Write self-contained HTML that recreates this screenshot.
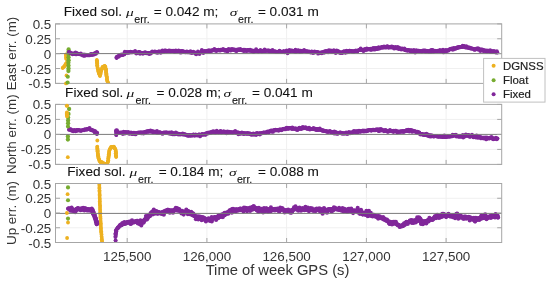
<!DOCTYPE html><html><head><meta charset="utf-8"><style>html,body{margin:0;padding:0;background:#fff;overflow:hidden}svg{display:block;filter:blur(0.3px)}text{font-family:"Liberation Sans",sans-serif;fill:#333333}.t{fill:#111;stroke:#111;stroke-width:0.08px;stroke-linejoin:round}</style></head><body>
<svg width="550" height="284" viewBox="0 0 550 284">
<rect width="550" height="284" fill="#fff"/>
<line x1="55.5" y1="38.775" x2="501.7" y2="38.775" stroke="#f0f0f0" stroke-width="1"/>
<line x1="55.5" y1="68.525" x2="501.7" y2="68.525" stroke="#f0f0f0" stroke-width="1"/>
<line x1="127.2" y1="23.9" x2="127.2" y2="83.4" stroke="#f0f0f0" stroke-width="1"/>
<line x1="206.9" y1="23.9" x2="206.9" y2="83.4" stroke="#f0f0f0" stroke-width="1"/>
<line x1="286.6" y1="23.9" x2="286.6" y2="83.4" stroke="#f0f0f0" stroke-width="1"/>
<line x1="366.4" y1="23.9" x2="366.4" y2="83.4" stroke="#f0f0f0" stroke-width="1"/>
<line x1="446.1" y1="23.9" x2="446.1" y2="83.4" stroke="#f0f0f0" stroke-width="1"/>
<line x1="55.5" y1="119.4" x2="501.7" y2="119.4" stroke="#f0f0f0" stroke-width="1"/>
<line x1="55.5" y1="149.4" x2="501.7" y2="149.4" stroke="#f0f0f0" stroke-width="1"/>
<line x1="127.2" y1="104.4" x2="127.2" y2="164.4" stroke="#f0f0f0" stroke-width="1"/>
<line x1="206.9" y1="104.4" x2="206.9" y2="164.4" stroke="#f0f0f0" stroke-width="1"/>
<line x1="286.6" y1="104.4" x2="286.6" y2="164.4" stroke="#f0f0f0" stroke-width="1"/>
<line x1="366.4" y1="104.4" x2="366.4" y2="164.4" stroke="#f0f0f0" stroke-width="1"/>
<line x1="446.1" y1="104.4" x2="446.1" y2="164.4" stroke="#f0f0f0" stroke-width="1"/>
<line x1="55.5" y1="198.25" x2="501.7" y2="198.25" stroke="#f0f0f0" stroke-width="1"/>
<line x1="55.5" y1="227.75" x2="501.7" y2="227.75" stroke="#f0f0f0" stroke-width="1"/>
<line x1="127.2" y1="183.5" x2="127.2" y2="242.5" stroke="#f0f0f0" stroke-width="1"/>
<line x1="206.9" y1="183.5" x2="206.9" y2="242.5" stroke="#f0f0f0" stroke-width="1"/>
<line x1="286.6" y1="183.5" x2="286.6" y2="242.5" stroke="#f0f0f0" stroke-width="1"/>
<line x1="366.4" y1="183.5" x2="366.4" y2="242.5" stroke="#f0f0f0" stroke-width="1"/>
<line x1="446.1" y1="183.5" x2="446.1" y2="242.5" stroke="#f0f0f0" stroke-width="1"/>
<defs><clipPath id="c"><rect x="55.5" y="23.9" width="446.2" height="59.50000000000001"/><rect x="55.5" y="104.4" width="446.2" height="60.0"/><rect x="55.5" y="183.5" width="446.2" height="59.0"/></clipPath></defs>
<g clip-path="url(#c)">
<polyline points="66.1,54.3 66.2,59.0" fill="none" stroke="#EDB120" stroke-width="3.4" stroke-linecap="round" stroke-linejoin="round"/>
<g fill="#EDB120"><circle cx="66.1" cy="54.5" r="1.8"/><circle cx="66.1" cy="55.1" r="1.8"/><circle cx="66.0" cy="56.1" r="1.8"/><circle cx="66.3" cy="57.3" r="1.8"/><circle cx="66.3" cy="58.1" r="1.8"/><circle cx="66.2" cy="59.0" r="1.8"/></g>
<polyline points="67.2,62.0 66.3,63.6 64.5,66.2 62.6,67.9" fill="none" stroke="#EDB120" stroke-width="3.4" stroke-linecap="round" stroke-linejoin="round"/>
<g fill="#EDB120"><circle cx="67.2" cy="62.1" r="1.8"/><circle cx="66.6" cy="63.1" r="1.8"/><circle cx="66.4" cy="63.8" r="1.8"/><circle cx="65.5" cy="63.9" r="1.8"/><circle cx="65.0" cy="65.2" r="1.8"/><circle cx="64.5" cy="66.2" r="1.8"/><circle cx="63.9" cy="66.5" r="1.8"/><circle cx="63.3" cy="67.5" r="1.8"/><circle cx="62.6" cy="67.9" r="1.8"/></g>
<polyline points="96.9,59.7 97.4,66.6 99.0,74.0 100.0,76.1 101.1,70.8 102.7,66.6 104.8,66.0 105.9,68.7 106.4,75.0 107.4,81.4 108.5,83.4" fill="none" stroke="#EDB120" stroke-width="3.4" stroke-linecap="round" stroke-linejoin="round"/>
<g fill="#EDB120"><circle cx="96.8" cy="60.3" r="1.8"/><circle cx="97.0" cy="61.0" r="1.8"/><circle cx="97.0" cy="61.2" r="1.8"/><circle cx="97.1" cy="62.3" r="1.8"/><circle cx="97.2" cy="63.2" r="1.8"/><circle cx="97.2" cy="63.7" r="1.8"/><circle cx="97.2" cy="65.3" r="1.8"/><circle cx="97.3" cy="65.8" r="1.8"/><circle cx="97.4" cy="66.1" r="1.8"/><circle cx="97.6" cy="67.9" r="1.8"/><circle cx="97.5" cy="68.1" r="1.8"/><circle cx="97.9" cy="68.8" r="1.8"/><circle cx="98.2" cy="69.9" r="1.8"/><circle cx="98.1" cy="71.0" r="1.8"/><circle cx="98.5" cy="71.9" r="1.8"/><circle cx="98.8" cy="72.5" r="1.8"/><circle cx="98.8" cy="72.7" r="1.8"/><circle cx="99.1" cy="73.8" r="1.8"/><circle cx="99.5" cy="74.6" r="1.8"/><circle cx="99.9" cy="75.9" r="1.8"/><circle cx="100.3" cy="74.5" r="1.8"/><circle cx="100.2" cy="74.4" r="1.8"/><circle cx="100.7" cy="73.7" r="1.8"/><circle cx="100.5" cy="71.7" r="1.8"/><circle cx="101.0" cy="71.4" r="1.8"/><circle cx="101.0" cy="71.1" r="1.8"/><circle cx="101.5" cy="70.0" r="1.8"/><circle cx="101.8" cy="69.3" r="1.8"/><circle cx="102.2" cy="68.5" r="1.8"/><circle cx="102.4" cy="67.6" r="1.8"/><circle cx="102.5" cy="67.0" r="1.8"/><circle cx="103.9" cy="66.5" r="1.8"/><circle cx="104.6" cy="65.8" r="1.8"/><circle cx="105.3" cy="66.3" r="1.8"/><circle cx="105.5" cy="68.2" r="1.8"/><circle cx="105.8" cy="69.3" r="1.8"/><circle cx="106.0" cy="69.5" r="1.8"/><circle cx="106.1" cy="70.7" r="1.8"/><circle cx="106.1" cy="71.8" r="1.8"/><circle cx="106.1" cy="72.2" r="1.8"/><circle cx="106.4" cy="73.2" r="1.8"/><circle cx="106.2" cy="74.4" r="1.8"/><circle cx="106.6" cy="74.8" r="1.8"/><circle cx="106.4" cy="75.8" r="1.8"/><circle cx="106.6" cy="76.5" r="1.8"/><circle cx="106.9" cy="77.0" r="1.8"/><circle cx="107.0" cy="77.8" r="1.8"/><circle cx="106.9" cy="79.2" r="1.8"/><circle cx="107.3" cy="80.1" r="1.8"/><circle cx="107.3" cy="80.6" r="1.8"/><circle cx="107.4" cy="81.6" r="1.8"/><circle cx="107.9" cy="82.5" r="1.8"/><circle cx="108.5" cy="83.4" r="1.8"/></g>
<polyline points="97.2,146.6 97.6,152.0 98.3,157.0 99.3,160.5 100.8,162.5 103.5,163.5 107.2,164.0 108.3,160.0 108.7,154.7 109.6,149.6 111.0,147.0 113.8,146.6 115.6,149.6 116.2,157.0" fill="none" stroke="#EDB120" stroke-width="3.4" stroke-linecap="round" stroke-linejoin="round"/>
<g fill="#EDB120"><circle cx="97.3" cy="146.6" r="1.8"/><circle cx="97.3" cy="147.7" r="1.8"/><circle cx="97.5" cy="148.5" r="1.8"/><circle cx="97.4" cy="149.2" r="1.8"/><circle cx="97.5" cy="150.5" r="1.8"/><circle cx="97.5" cy="151.2" r="1.8"/><circle cx="97.8" cy="151.1" r="1.8"/><circle cx="97.6" cy="152.9" r="1.8"/><circle cx="97.9" cy="153.8" r="1.8"/><circle cx="97.9" cy="154.7" r="1.8"/><circle cx="98.1" cy="155.2" r="1.8"/><circle cx="98.4" cy="156.3" r="1.8"/><circle cx="98.2" cy="157.0" r="1.8"/><circle cx="98.5" cy="157.9" r="1.8"/><circle cx="98.5" cy="158.6" r="1.8"/><circle cx="99.2" cy="159.2" r="1.8"/><circle cx="99.3" cy="160.8" r="1.8"/><circle cx="99.9" cy="161.7" r="1.8"/><circle cx="100.1" cy="161.7" r="1.8"/><circle cx="100.8" cy="162.7" r="1.8"/><circle cx="101.8" cy="161.9" r="1.8"/><circle cx="102.7" cy="162.7" r="1.8"/><circle cx="103.6" cy="163.0" r="1.8"/><circle cx="104.4" cy="164.0" r="1.8"/><circle cx="105.3" cy="163.8" r="1.8"/><circle cx="106.4" cy="163.9" r="1.8"/><circle cx="107.2" cy="164.5" r="1.8"/><circle cx="107.5" cy="163.1" r="1.8"/><circle cx="107.9" cy="162.0" r="1.8"/><circle cx="108.0" cy="161.5" r="1.8"/><circle cx="108.1" cy="161.0" r="1.8"/><circle cx="108.3" cy="160.2" r="1.8"/><circle cx="108.2" cy="158.6" r="1.8"/><circle cx="108.5" cy="157.9" r="1.8"/><circle cx="108.4" cy="156.8" r="1.8"/><circle cx="108.7" cy="156.7" r="1.8"/><circle cx="108.8" cy="155.3" r="1.8"/><circle cx="108.7" cy="154.3" r="1.8"/><circle cx="108.9" cy="154.4" r="1.8"/><circle cx="108.9" cy="153.5" r="1.8"/><circle cx="109.3" cy="152.1" r="1.8"/><circle cx="109.1" cy="151.8" r="1.8"/><circle cx="109.4" cy="150.2" r="1.8"/><circle cx="109.6" cy="149.7" r="1.8"/><circle cx="110.2" cy="148.4" r="1.8"/><circle cx="110.7" cy="148.4" r="1.8"/><circle cx="111.2" cy="146.9" r="1.8"/><circle cx="111.9" cy="147.2" r="1.8"/><circle cx="112.9" cy="146.8" r="1.8"/><circle cx="113.9" cy="146.5" r="1.8"/><circle cx="114.0" cy="147.2" r="1.8"/><circle cx="114.5" cy="148.4" r="1.8"/><circle cx="115.2" cy="148.6" r="1.8"/><circle cx="115.6" cy="149.9" r="1.8"/><circle cx="115.7" cy="150.9" r="1.8"/><circle cx="115.7" cy="151.6" r="1.8"/><circle cx="116.0" cy="152.6" r="1.8"/><circle cx="115.8" cy="153.2" r="1.8"/><circle cx="115.7" cy="153.3" r="1.8"/><circle cx="115.8" cy="154.9" r="1.8"/><circle cx="115.9" cy="155.4" r="1.8"/><circle cx="116.1" cy="156.2" r="1.8"/><circle cx="116.2" cy="157.0" r="1.8"/></g>
<g fill="#EDB120"><circle cx="99.3" cy="184.5" r="1.85"/><circle cx="99.4" cy="185.9" r="1.85"/><circle cx="99.4" cy="187.5" r="1.85"/><circle cx="99.4" cy="188.5" r="1.85"/><circle cx="99.5" cy="190.3" r="1.85"/><circle cx="99.5" cy="191.5" r="1.85"/><circle cx="99.6" cy="193.1" r="1.85"/><circle cx="99.6" cy="194.5" r="1.85"/><circle cx="99.7" cy="195.6" r="1.85"/><circle cx="99.6" cy="197.1" r="1.85"/><circle cx="99.8" cy="198.5" r="1.85"/><circle cx="99.8" cy="199.9" r="1.85"/><circle cx="99.8" cy="201.3" r="1.85"/><circle cx="99.8" cy="202.8" r="1.85"/><circle cx="99.8" cy="204.1" r="1.85"/><circle cx="100.0" cy="205.2" r="1.85"/><circle cx="100.1" cy="206.8" r="1.85"/><circle cx="100.0" cy="208.1" r="1.85"/><circle cx="100.1" cy="209.5" r="1.85"/><circle cx="100.2" cy="211.0" r="1.85"/><circle cx="100.2" cy="212.3" r="1.85"/><circle cx="100.3" cy="213.7" r="1.85"/><circle cx="100.3" cy="214.7" r="1.85"/><circle cx="100.4" cy="216.6" r="1.85"/><circle cx="100.4" cy="217.7" r="1.85"/><circle cx="100.6" cy="218.8" r="1.85"/><circle cx="100.6" cy="220.8" r="1.85"/><circle cx="100.6" cy="221.9" r="1.85"/><circle cx="100.8" cy="223.2" r="1.85"/><circle cx="100.8" cy="224.7" r="1.85"/><circle cx="100.8" cy="225.9" r="1.85"/><circle cx="100.9" cy="227.4" r="1.85"/><circle cx="100.9" cy="228.6" r="1.85"/><circle cx="101.0" cy="229.9" r="1.85"/><circle cx="101.2" cy="231.3" r="1.85"/><circle cx="101.2" cy="232.5" r="1.85"/><circle cx="101.5" cy="234.1" r="1.85"/><circle cx="101.5" cy="234.8" r="1.85"/><circle cx="101.6" cy="236.6" r="1.85"/><circle cx="101.8" cy="237.9" r="1.85"/><circle cx="101.8" cy="239.2" r="1.85"/><circle cx="101.9" cy="240.6" r="1.85"/><circle cx="102.1" cy="241.6" r="1.85"/><circle cx="102.2" cy="243.0" r="1.85"/></g>
<g fill="#77AC30"><circle cx="68.6" cy="49.4" r="2.15"/><circle cx="68.5" cy="51.9" r="2.15"/><circle cx="68.6" cy="54.7" r="2.15"/><circle cx="68.5" cy="57.3" r="2.15"/><circle cx="68.6" cy="60.2" r="2.15"/><circle cx="68.4" cy="62.7" r="2.15"/><circle cx="68.5" cy="65.6" r="2.15"/><circle cx="68.5" cy="68.4" r="2.15"/><circle cx="68.4" cy="71.0" r="2.15"/></g>
<g fill="#77AC30"><circle cx="69.1" cy="109.0" r="2.15"/><circle cx="68.5" cy="113.9" r="2.15"/><circle cx="68.1" cy="117.6" r="2.15"/><circle cx="68.1" cy="120.4" r="2.15"/><circle cx="68.1" cy="123.3" r="2.15"/></g>
<g fill="#77AC30"><circle cx="67.9" cy="136.4" r="2.15"/><circle cx="67.9" cy="139.6" r="2.15"/></g>
<polyline points="66.9,112.6 67.0,116.2" fill="none" stroke="#EDB120" stroke-width="4" stroke-linecap="round"/>
<g fill="#EDB120"><circle cx="66.9" cy="105.6" r="2.1"/></g>
<polyline points="68.7,51.8 71.9,53.8 77.5,53.6 83.2,54.4 88.8,55.1 93.3,54.7 97.3,52.5" fill="none" stroke="#80279A" stroke-width="3.0" stroke-linecap="round" stroke-linejoin="round"/>
<g fill="#80279A"><circle cx="68.8" cy="51.9" r="1.9"/><circle cx="69.2" cy="52.5" r="1.9"/><circle cx="69.8" cy="52.1" r="1.9"/><circle cx="70.2" cy="52.8" r="1.9"/><circle cx="70.8" cy="53.2" r="1.9"/><circle cx="71.4" cy="53.6" r="1.9"/><circle cx="71.9" cy="53.2" r="1.9"/><circle cx="72.6" cy="54.3" r="1.9"/><circle cx="73.2" cy="53.7" r="1.9"/><circle cx="73.8" cy="53.3" r="1.9"/><circle cx="74.1" cy="53.7" r="1.9"/><circle cx="74.9" cy="54.1" r="1.9"/><circle cx="75.5" cy="52.4" r="1.9"/><circle cx="76.1" cy="54.4" r="1.9"/><circle cx="76.8" cy="52.9" r="1.9"/><circle cx="77.4" cy="53.9" r="1.9"/><circle cx="78.2" cy="53.8" r="1.9"/><circle cx="79.0" cy="54.1" r="1.9"/><circle cx="79.4" cy="54.2" r="1.9"/><circle cx="80.3" cy="54.4" r="1.9"/><circle cx="80.8" cy="53.5" r="1.9"/><circle cx="81.3" cy="54.5" r="1.9"/><circle cx="81.9" cy="54.8" r="1.9"/><circle cx="82.7" cy="54.8" r="1.9"/><circle cx="83.2" cy="55.7" r="1.9"/><circle cx="84.0" cy="54.4" r="1.9"/><circle cx="84.5" cy="55.9" r="1.9"/><circle cx="85.0" cy="55.1" r="1.9"/><circle cx="85.8" cy="54.7" r="1.9"/><circle cx="86.1" cy="54.9" r="1.9"/><circle cx="87.0" cy="55.4" r="1.9"/><circle cx="87.7" cy="55.0" r="1.9"/><circle cx="88.3" cy="55.3" r="1.9"/><circle cx="88.8" cy="55.1" r="1.9"/><circle cx="89.4" cy="55.4" r="1.9"/><circle cx="89.9" cy="54.7" r="1.9"/><circle cx="90.7" cy="54.2" r="1.9"/><circle cx="91.3" cy="53.9" r="1.9"/><circle cx="91.9" cy="55.1" r="1.9"/><circle cx="92.7" cy="54.7" r="1.9"/><circle cx="93.3" cy="54.0" r="1.9"/><circle cx="94.1" cy="54.6" r="1.9"/><circle cx="94.6" cy="53.6" r="1.9"/><circle cx="95.0" cy="52.8" r="1.9"/><circle cx="95.7" cy="53.9" r="1.9"/><circle cx="95.9" cy="53.1" r="1.9"/><circle cx="96.8" cy="51.9" r="1.9"/><circle cx="97.3" cy="52.5" r="1.9"/></g>
<polyline points="116.6,58.2 117.4,56.6 119.3,55.6 122.7,55.1 124.2,54.2 125.2,52.7 130.5,52.4 136.2,52.2 141.8,52.7 147.5,52.9 153.1,52.4 158.7,51.8 164.4,51.1 168.9,50.7 173.0,51.1 176.3,51.4 180.0,51.3 185.6,51.8 191.3,52.4 196.9,52.9 202.5,51.8 208.2,50.7 213.8,50.2 219.5,50.0 225.1,50.0 236.4,49.9 247.5,50.3 258.8,50.9 270.1,50.9 275.7,51.8 281.4,51.5 285.0,52.3 291.8,50.7 301.9,51.1 313.2,52.0 321.1,52.6 330.1,51.1 335.7,51.8 341.4,52.3 345.0,52.0 350.6,51.4 356.3,50.9 361.9,49.7 367.5,49.2 373.2,48.9 378.8,48.3 382.2,46.9 387.8,46.9 393.5,47.8 399.1,48.3 405.6,49.4 411.3,50.5 416.9,51.2 422.5,50.9 428.2,51.2 433.8,50.9 439.5,50.9 445.0,50.9 450.6,49.4 456.3,48.3 461.9,47.1 465.3,46.8 469.8,48.3 476.6,49.1 482.2,49.7 487.8,50.9 493.5,51.6 497.4,52.5" fill="none" stroke="#80279A" stroke-width="3.4" stroke-linecap="round" stroke-linejoin="round"/>
<g fill="#80279A"><circle cx="116.3" cy="57.6" r="1.9"/><circle cx="116.9" cy="56.6" r="1.9"/><circle cx="117.4" cy="56.7" r="1.9"/><circle cx="118.1" cy="56.7" r="1.9"/><circle cx="118.9" cy="56.6" r="1.9"/><circle cx="119.1" cy="55.3" r="1.9"/><circle cx="119.8" cy="54.9" r="1.9"/><circle cx="120.6" cy="55.4" r="1.9"/><circle cx="121.4" cy="54.3" r="1.9"/><circle cx="121.8" cy="55.2" r="1.9"/><circle cx="122.7" cy="54.9" r="1.9"/><circle cx="123.4" cy="54.2" r="1.9"/><circle cx="124.3" cy="54.4" r="1.9"/><circle cx="124.5" cy="53.3" r="1.9"/><circle cx="124.8" cy="51.6" r="1.9"/><circle cx="125.0" cy="52.7" r="1.9"/><circle cx="125.6" cy="52.8" r="1.9"/><circle cx="126.6" cy="51.8" r="1.9"/><circle cx="127.1" cy="52.4" r="1.9"/><circle cx="127.9" cy="52.9" r="1.9"/><circle cx="128.5" cy="52.0" r="1.9"/><circle cx="129.1" cy="52.4" r="1.9"/><circle cx="130.0" cy="52.6" r="1.9"/><circle cx="130.4" cy="51.6" r="1.9"/><circle cx="131.1" cy="51.9" r="1.9"/><circle cx="131.6" cy="52.3" r="1.9"/><circle cx="132.3" cy="52.4" r="1.9"/><circle cx="133.1" cy="52.1" r="1.9"/><circle cx="134.1" cy="52.1" r="1.9"/><circle cx="134.5" cy="52.3" r="1.9"/><circle cx="135.1" cy="50.8" r="1.9"/><circle cx="135.4" cy="52.4" r="1.9"/><circle cx="136.3" cy="53.6" r="1.9"/><circle cx="136.9" cy="53.0" r="1.9"/><circle cx="137.6" cy="52.9" r="1.9"/><circle cx="138.2" cy="52.3" r="1.9"/><circle cx="138.8" cy="51.8" r="1.9"/><circle cx="139.5" cy="51.9" r="1.9"/><circle cx="140.0" cy="53.8" r="1.9"/><circle cx="140.5" cy="52.6" r="1.9"/><circle cx="141.4" cy="52.7" r="1.9"/><circle cx="141.7" cy="52.9" r="1.9"/><circle cx="142.5" cy="53.1" r="1.9"/><circle cx="142.9" cy="53.8" r="1.9"/><circle cx="144.0" cy="52.8" r="1.9"/><circle cx="144.4" cy="52.5" r="1.9"/><circle cx="145.2" cy="52.4" r="1.9"/><circle cx="145.7" cy="52.5" r="1.9"/><circle cx="146.1" cy="53.3" r="1.9"/><circle cx="147.1" cy="52.9" r="1.9"/><circle cx="147.4" cy="53.4" r="1.9"/><circle cx="148.1" cy="53.0" r="1.9"/><circle cx="149.0" cy="53.5" r="1.9"/><circle cx="149.3" cy="54.1" r="1.9"/><circle cx="150.0" cy="53.1" r="1.9"/><circle cx="150.5" cy="52.6" r="1.9"/><circle cx="150.9" cy="53.6" r="1.9"/><circle cx="152.1" cy="51.8" r="1.9"/><circle cx="152.2" cy="51.5" r="1.9"/><circle cx="153.3" cy="52.1" r="1.9"/><circle cx="153.7" cy="52.1" r="1.9"/><circle cx="154.3" cy="51.6" r="1.9"/><circle cx="155.0" cy="51.3" r="1.9"/><circle cx="155.6" cy="52.3" r="1.9"/><circle cx="156.3" cy="51.9" r="1.9"/><circle cx="156.7" cy="52.1" r="1.9"/><circle cx="157.4" cy="52.9" r="1.9"/><circle cx="158.2" cy="51.8" r="1.9"/><circle cx="158.6" cy="51.4" r="1.9"/><circle cx="159.2" cy="51.5" r="1.9"/><circle cx="160.0" cy="52.0" r="1.9"/><circle cx="160.7" cy="52.8" r="1.9"/><circle cx="161.1" cy="51.5" r="1.9"/><circle cx="162.4" cy="50.3" r="1.9"/><circle cx="162.4" cy="51.4" r="1.9"/><circle cx="163.2" cy="51.5" r="1.9"/><circle cx="163.7" cy="51.4" r="1.9"/><circle cx="164.4" cy="51.6" r="1.9"/><circle cx="164.7" cy="50.5" r="1.9"/><circle cx="165.7" cy="50.4" r="1.9"/><circle cx="166.1" cy="51.3" r="1.9"/><circle cx="166.9" cy="51.3" r="1.9"/><circle cx="167.7" cy="51.0" r="1.9"/><circle cx="168.3" cy="50.7" r="1.9"/><circle cx="168.6" cy="50.7" r="1.9"/><circle cx="169.7" cy="50.4" r="1.9"/><circle cx="170.2" cy="51.3" r="1.9"/><circle cx="170.8" cy="51.3" r="1.9"/><circle cx="172.0" cy="50.6" r="1.9"/><circle cx="172.3" cy="50.9" r="1.9"/><circle cx="173.3" cy="51.3" r="1.9"/><circle cx="173.8" cy="50.7" r="1.9"/><circle cx="174.3" cy="51.2" r="1.9"/><circle cx="174.7" cy="52.1" r="1.9"/><circle cx="175.8" cy="50.3" r="1.9"/><circle cx="176.4" cy="51.3" r="1.9"/><circle cx="177.0" cy="51.6" r="1.9"/><circle cx="177.3" cy="51.2" r="1.9"/><circle cx="178.4" cy="51.0" r="1.9"/><circle cx="178.6" cy="50.5" r="1.9"/><circle cx="179.2" cy="51.5" r="1.9"/><circle cx="180.3" cy="51.6" r="1.9"/><circle cx="180.7" cy="52.7" r="1.9"/><circle cx="181.2" cy="51.0" r="1.9"/><circle cx="182.0" cy="51.8" r="1.9"/><circle cx="182.3" cy="50.8" r="1.9"/><circle cx="183.2" cy="51.7" r="1.9"/><circle cx="183.5" cy="51.5" r="1.9"/><circle cx="184.3" cy="52.0" r="1.9"/><circle cx="185.0" cy="51.7" r="1.9"/><circle cx="185.5" cy="52.4" r="1.9"/><circle cx="186.5" cy="51.6" r="1.9"/><circle cx="187.0" cy="51.5" r="1.9"/><circle cx="187.5" cy="52.4" r="1.9"/><circle cx="188.4" cy="51.8" r="1.9"/><circle cx="188.8" cy="52.3" r="1.9"/><circle cx="189.1" cy="52.2" r="1.9"/><circle cx="189.9" cy="52.5" r="1.9"/><circle cx="190.5" cy="51.1" r="1.9"/><circle cx="191.3" cy="52.6" r="1.9"/><circle cx="191.8" cy="53.0" r="1.9"/><circle cx="192.5" cy="52.1" r="1.9"/><circle cx="193.3" cy="51.6" r="1.9"/><circle cx="193.7" cy="52.6" r="1.9"/><circle cx="194.6" cy="52.6" r="1.9"/><circle cx="195.1" cy="52.3" r="1.9"/><circle cx="195.7" cy="53.8" r="1.9"/><circle cx="196.2" cy="54.3" r="1.9"/><circle cx="196.8" cy="52.9" r="1.9"/><circle cx="197.6" cy="53.4" r="1.9"/><circle cx="197.9" cy="51.4" r="1.9"/><circle cx="198.9" cy="53.0" r="1.9"/><circle cx="199.5" cy="54.0" r="1.9"/><circle cx="200.0" cy="52.4" r="1.9"/><circle cx="200.8" cy="52.4" r="1.9"/><circle cx="201.6" cy="51.3" r="1.9"/><circle cx="201.8" cy="49.9" r="1.9"/><circle cx="202.6" cy="51.6" r="1.9"/><circle cx="203.3" cy="53.0" r="1.9"/><circle cx="203.8" cy="51.4" r="1.9"/><circle cx="204.3" cy="50.9" r="1.9"/><circle cx="204.9" cy="51.7" r="1.9"/><circle cx="205.7" cy="51.2" r="1.9"/><circle cx="206.3" cy="51.6" r="1.9"/><circle cx="207.0" cy="50.9" r="1.9"/><circle cx="207.7" cy="50.7" r="1.9"/><circle cx="208.0" cy="51.6" r="1.9"/><circle cx="208.9" cy="50.1" r="1.9"/><circle cx="209.6" cy="50.8" r="1.9"/><circle cx="209.8" cy="51.5" r="1.9"/><circle cx="210.7" cy="51.0" r="1.9"/><circle cx="211.3" cy="50.3" r="1.9"/><circle cx="211.7" cy="50.9" r="1.9"/><circle cx="212.6" cy="50.1" r="1.9"/><circle cx="213.2" cy="50.3" r="1.9"/><circle cx="213.9" cy="50.0" r="1.9"/><circle cx="214.4" cy="48.9" r="1.9"/><circle cx="215.0" cy="50.6" r="1.9"/><circle cx="215.9" cy="49.9" r="1.9"/><circle cx="216.3" cy="51.1" r="1.9"/><circle cx="216.9" cy="50.5" r="1.9"/><circle cx="217.9" cy="50.1" r="1.9"/><circle cx="218.5" cy="49.6" r="1.9"/><circle cx="218.9" cy="50.0" r="1.9"/><circle cx="219.5" cy="50.7" r="1.9"/><circle cx="220.6" cy="49.6" r="1.9"/><circle cx="220.6" cy="50.3" r="1.9"/><circle cx="221.2" cy="50.3" r="1.9"/><circle cx="222.1" cy="49.8" r="1.9"/><circle cx="222.7" cy="49.1" r="1.9"/><circle cx="223.4" cy="49.1" r="1.9"/><circle cx="223.7" cy="49.7" r="1.9"/><circle cx="224.4" cy="50.5" r="1.9"/><circle cx="225.1" cy="49.8" r="1.9"/><circle cx="225.8" cy="50.9" r="1.9"/><circle cx="226.4" cy="50.2" r="1.9"/><circle cx="227.2" cy="50.1" r="1.9"/><circle cx="227.4" cy="51.5" r="1.9"/><circle cx="228.6" cy="48.8" r="1.9"/><circle cx="228.9" cy="50.2" r="1.9"/><circle cx="229.7" cy="50.4" r="1.9"/><circle cx="230.1" cy="49.3" r="1.9"/><circle cx="230.8" cy="50.6" r="1.9"/><circle cx="231.2" cy="49.3" r="1.9"/><circle cx="232.0" cy="48.8" r="1.9"/><circle cx="232.6" cy="49.7" r="1.9"/><circle cx="233.3" cy="49.5" r="1.9"/><circle cx="233.7" cy="49.7" r="1.9"/><circle cx="234.5" cy="49.5" r="1.9"/><circle cx="235.1" cy="50.4" r="1.9"/><circle cx="236.0" cy="50.9" r="1.9"/><circle cx="236.3" cy="49.6" r="1.9"/><circle cx="236.6" cy="51.1" r="1.9"/><circle cx="237.5" cy="49.9" r="1.9"/><circle cx="238.3" cy="49.2" r="1.9"/><circle cx="239.0" cy="50.0" r="1.9"/><circle cx="239.2" cy="50.2" r="1.9"/><circle cx="240.3" cy="48.9" r="1.9"/><circle cx="240.9" cy="50.2" r="1.9"/><circle cx="241.4" cy="50.3" r="1.9"/><circle cx="242.2" cy="50.0" r="1.9"/><circle cx="242.7" cy="49.9" r="1.9"/><circle cx="243.3" cy="49.7" r="1.9"/><circle cx="243.8" cy="51.2" r="1.9"/><circle cx="244.5" cy="50.1" r="1.9"/><circle cx="244.8" cy="49.7" r="1.9"/><circle cx="245.7" cy="50.8" r="1.9"/><circle cx="246.3" cy="50.6" r="1.9"/><circle cx="246.9" cy="51.1" r="1.9"/><circle cx="247.4" cy="50.0" r="1.9"/><circle cx="248.3" cy="50.4" r="1.9"/><circle cx="248.7" cy="50.0" r="1.9"/><circle cx="249.3" cy="50.8" r="1.9"/><circle cx="250.1" cy="49.7" r="1.9"/><circle cx="250.7" cy="50.6" r="1.9"/><circle cx="251.1" cy="51.0" r="1.9"/><circle cx="251.8" cy="50.3" r="1.9"/><circle cx="252.7" cy="51.4" r="1.9"/><circle cx="253.0" cy="50.9" r="1.9"/><circle cx="253.6" cy="52.0" r="1.9"/><circle cx="254.3" cy="51.4" r="1.9"/><circle cx="254.9" cy="51.2" r="1.9"/><circle cx="256.1" cy="49.2" r="1.9"/><circle cx="256.2" cy="51.1" r="1.9"/><circle cx="256.9" cy="50.4" r="1.9"/><circle cx="257.9" cy="50.9" r="1.9"/><circle cx="257.9" cy="51.4" r="1.9"/><circle cx="258.5" cy="51.6" r="1.9"/><circle cx="259.3" cy="51.0" r="1.9"/><circle cx="260.3" cy="51.0" r="1.9"/><circle cx="260.4" cy="49.9" r="1.9"/><circle cx="261.5" cy="51.3" r="1.9"/><circle cx="261.8" cy="51.4" r="1.9"/><circle cx="262.7" cy="51.3" r="1.9"/><circle cx="262.8" cy="50.7" r="1.9"/><circle cx="264.0" cy="51.3" r="1.9"/><circle cx="264.6" cy="49.4" r="1.9"/><circle cx="265.1" cy="51.2" r="1.9"/><circle cx="266.2" cy="50.3" r="1.9"/><circle cx="266.3" cy="50.9" r="1.9"/><circle cx="267.1" cy="50.6" r="1.9"/><circle cx="267.8" cy="50.4" r="1.9"/><circle cx="268.3" cy="50.6" r="1.9"/><circle cx="268.9" cy="50.5" r="1.9"/><circle cx="269.2" cy="51.6" r="1.9"/><circle cx="270.2" cy="50.6" r="1.9"/><circle cx="270.8" cy="51.6" r="1.9"/><circle cx="271.2" cy="51.0" r="1.9"/><circle cx="272.1" cy="51.5" r="1.9"/><circle cx="272.5" cy="50.0" r="1.9"/><circle cx="273.4" cy="51.6" r="1.9"/><circle cx="273.8" cy="51.3" r="1.9"/><circle cx="274.5" cy="51.3" r="1.9"/><circle cx="274.9" cy="51.3" r="1.9"/><circle cx="275.6" cy="51.4" r="1.9"/><circle cx="276.1" cy="52.1" r="1.9"/><circle cx="276.7" cy="52.1" r="1.9"/><circle cx="277.4" cy="51.9" r="1.9"/><circle cx="278.5" cy="51.8" r="1.9"/><circle cx="278.7" cy="51.7" r="1.9"/><circle cx="279.5" cy="50.6" r="1.9"/><circle cx="280.0" cy="51.7" r="1.9"/><circle cx="280.7" cy="51.6" r="1.9"/><circle cx="281.5" cy="52.0" r="1.9"/><circle cx="282.2" cy="52.0" r="1.9"/><circle cx="282.5" cy="51.8" r="1.9"/><circle cx="283.2" cy="51.7" r="1.9"/><circle cx="283.8" cy="51.0" r="1.9"/><circle cx="284.3" cy="52.2" r="1.9"/><circle cx="284.8" cy="52.3" r="1.9"/><circle cx="285.7" cy="52.1" r="1.9"/><circle cx="286.6" cy="50.4" r="1.9"/><circle cx="286.8" cy="50.8" r="1.9"/><circle cx="287.6" cy="53.3" r="1.9"/><circle cx="287.6" cy="51.6" r="1.9"/><circle cx="288.8" cy="51.2" r="1.9"/><circle cx="289.4" cy="49.9" r="1.9"/><circle cx="290.1" cy="51.4" r="1.9"/><circle cx="290.6" cy="50.6" r="1.9"/><circle cx="291.3" cy="50.6" r="1.9"/><circle cx="291.8" cy="50.4" r="1.9"/><circle cx="292.0" cy="50.7" r="1.9"/><circle cx="293.1" cy="51.2" r="1.9"/><circle cx="293.5" cy="50.8" r="1.9"/><circle cx="294.4" cy="50.9" r="1.9"/><circle cx="295.2" cy="52.0" r="1.9"/><circle cx="295.4" cy="49.7" r="1.9"/><circle cx="296.4" cy="51.8" r="1.9"/><circle cx="297.0" cy="51.4" r="1.9"/><circle cx="297.4" cy="50.5" r="1.9"/><circle cx="298.3" cy="50.4" r="1.9"/><circle cx="298.4" cy="50.4" r="1.9"/><circle cx="299.8" cy="52.2" r="1.9"/><circle cx="299.9" cy="50.6" r="1.9"/><circle cx="300.7" cy="50.6" r="1.9"/><circle cx="301.5" cy="51.0" r="1.9"/><circle cx="301.7" cy="51.9" r="1.9"/><circle cx="302.4" cy="51.3" r="1.9"/><circle cx="303.2" cy="51.0" r="1.9"/><circle cx="303.8" cy="50.8" r="1.9"/><circle cx="304.1" cy="50.0" r="1.9"/><circle cx="304.8" cy="50.9" r="1.9"/><circle cx="305.7" cy="51.4" r="1.9"/><circle cx="306.4" cy="51.5" r="1.9"/><circle cx="306.8" cy="51.1" r="1.9"/><circle cx="307.2" cy="51.4" r="1.9"/><circle cx="308.3" cy="51.9" r="1.9"/><circle cx="308.8" cy="51.5" r="1.9"/><circle cx="309.6" cy="51.7" r="1.9"/><circle cx="310.2" cy="52.1" r="1.9"/><circle cx="310.7" cy="52.6" r="1.9"/><circle cx="311.2" cy="51.6" r="1.9"/><circle cx="311.8" cy="51.4" r="1.9"/><circle cx="312.9" cy="53.0" r="1.9"/><circle cx="313.2" cy="52.3" r="1.9"/><circle cx="314.0" cy="52.5" r="1.9"/><circle cx="314.6" cy="51.3" r="1.9"/><circle cx="314.9" cy="52.4" r="1.9"/><circle cx="315.9" cy="52.2" r="1.9"/><circle cx="316.1" cy="52.0" r="1.9"/><circle cx="316.7" cy="51.8" r="1.9"/><circle cx="317.7" cy="51.9" r="1.9"/><circle cx="318.1" cy="53.7" r="1.9"/><circle cx="318.9" cy="52.6" r="1.9"/><circle cx="319.2" cy="52.7" r="1.9"/><circle cx="320.2" cy="52.9" r="1.9"/><circle cx="320.7" cy="52.6" r="1.9"/><circle cx="321.2" cy="52.5" r="1.9"/><circle cx="321.8" cy="53.3" r="1.9"/><circle cx="322.0" cy="52.4" r="1.9"/><circle cx="322.9" cy="52.0" r="1.9"/><circle cx="323.4" cy="52.7" r="1.9"/><circle cx="324.5" cy="52.5" r="1.9"/><circle cx="324.8" cy="51.1" r="1.9"/><circle cx="325.6" cy="51.9" r="1.9"/><circle cx="325.9" cy="51.1" r="1.9"/><circle cx="326.5" cy="51.0" r="1.9"/><circle cx="327.1" cy="51.9" r="1.9"/><circle cx="327.7" cy="51.7" r="1.9"/><circle cx="328.1" cy="52.3" r="1.9"/><circle cx="328.8" cy="50.2" r="1.9"/><circle cx="329.5" cy="50.7" r="1.9"/><circle cx="329.9" cy="50.9" r="1.9"/><circle cx="330.8" cy="50.5" r="1.9"/><circle cx="331.3" cy="52.1" r="1.9"/><circle cx="332.1" cy="51.2" r="1.9"/><circle cx="332.6" cy="51.3" r="1.9"/><circle cx="333.2" cy="51.9" r="1.9"/><circle cx="333.8" cy="50.1" r="1.9"/><circle cx="334.5" cy="51.1" r="1.9"/><circle cx="335.2" cy="51.4" r="1.9"/><circle cx="335.7" cy="53.1" r="1.9"/><circle cx="336.1" cy="51.2" r="1.9"/><circle cx="336.7" cy="50.5" r="1.9"/><circle cx="337.3" cy="52.2" r="1.9"/><circle cx="338.1" cy="50.9" r="1.9"/><circle cx="338.6" cy="52.4" r="1.9"/><circle cx="339.4" cy="51.9" r="1.9"/><circle cx="340.2" cy="53.0" r="1.9"/><circle cx="341.1" cy="52.9" r="1.9"/><circle cx="341.4" cy="52.4" r="1.9"/><circle cx="342.3" cy="53.1" r="1.9"/><circle cx="342.5" cy="52.5" r="1.9"/><circle cx="343.3" cy="52.2" r="1.9"/><circle cx="343.7" cy="51.3" r="1.9"/><circle cx="344.3" cy="51.1" r="1.9"/><circle cx="345.2" cy="52.3" r="1.9"/><circle cx="345.4" cy="52.8" r="1.9"/><circle cx="346.4" cy="50.7" r="1.9"/><circle cx="347.2" cy="52.3" r="1.9"/><circle cx="347.9" cy="51.0" r="1.9"/><circle cx="348.2" cy="51.9" r="1.9"/><circle cx="348.8" cy="51.7" r="1.9"/><circle cx="349.5" cy="50.6" r="1.9"/><circle cx="349.8" cy="50.6" r="1.9"/><circle cx="350.5" cy="51.0" r="1.9"/><circle cx="351.3" cy="51.5" r="1.9"/><circle cx="351.9" cy="50.9" r="1.9"/><circle cx="352.4" cy="51.8" r="1.9"/><circle cx="353.3" cy="51.2" r="1.9"/><circle cx="353.7" cy="52.1" r="1.9"/><circle cx="354.3" cy="51.5" r="1.9"/><circle cx="355.2" cy="50.9" r="1.9"/><circle cx="355.8" cy="50.3" r="1.9"/><circle cx="356.5" cy="51.0" r="1.9"/><circle cx="356.6" cy="51.2" r="1.9"/><circle cx="357.4" cy="51.4" r="1.9"/><circle cx="358.0" cy="50.4" r="1.9"/><circle cx="358.8" cy="50.2" r="1.9"/><circle cx="359.5" cy="49.9" r="1.9"/><circle cx="360.2" cy="50.1" r="1.9"/><circle cx="360.7" cy="48.3" r="1.9"/><circle cx="361.5" cy="49.9" r="1.9"/><circle cx="361.6" cy="49.8" r="1.9"/><circle cx="362.6" cy="50.3" r="1.9"/><circle cx="362.9" cy="50.5" r="1.9"/><circle cx="363.7" cy="51.0" r="1.9"/><circle cx="364.4" cy="49.9" r="1.9"/><circle cx="364.9" cy="48.8" r="1.9"/><circle cx="365.8" cy="49.9" r="1.9"/><circle cx="366.5" cy="49.8" r="1.9"/><circle cx="366.8" cy="48.3" r="1.9"/><circle cx="367.4" cy="48.8" r="1.9"/><circle cx="368.0" cy="49.5" r="1.9"/><circle cx="368.8" cy="49.0" r="1.9"/><circle cx="369.4" cy="49.0" r="1.9"/><circle cx="370.1" cy="49.5" r="1.9"/><circle cx="370.8" cy="48.6" r="1.9"/><circle cx="371.0" cy="49.9" r="1.9"/><circle cx="372.0" cy="49.6" r="1.9"/><circle cx="372.3" cy="48.7" r="1.9"/><circle cx="373.2" cy="48.0" r="1.9"/><circle cx="373.7" cy="49.3" r="1.9"/><circle cx="374.6" cy="49.7" r="1.9"/><circle cx="374.9" cy="47.9" r="1.9"/><circle cx="375.8" cy="49.2" r="1.9"/><circle cx="376.3" cy="47.8" r="1.9"/><circle cx="377.1" cy="49.0" r="1.9"/><circle cx="377.7" cy="48.1" r="1.9"/><circle cx="378.2" cy="48.8" r="1.9"/><circle cx="378.7" cy="47.2" r="1.9"/><circle cx="379.4" cy="48.4" r="1.9"/><circle cx="379.9" cy="48.4" r="1.9"/><circle cx="380.4" cy="47.6" r="1.9"/><circle cx="381.0" cy="47.7" r="1.9"/><circle cx="381.9" cy="47.0" r="1.9"/><circle cx="382.6" cy="47.8" r="1.9"/><circle cx="383.0" cy="47.3" r="1.9"/><circle cx="383.8" cy="46.8" r="1.9"/><circle cx="384.0" cy="46.3" r="1.9"/><circle cx="384.8" cy="47.7" r="1.9"/><circle cx="385.4" cy="47.2" r="1.9"/><circle cx="385.9" cy="47.0" r="1.9"/><circle cx="386.3" cy="47.5" r="1.9"/><circle cx="387.1" cy="46.2" r="1.9"/><circle cx="387.7" cy="46.4" r="1.9"/><circle cx="388.6" cy="47.6" r="1.9"/><circle cx="388.8" cy="47.7" r="1.9"/><circle cx="389.9" cy="46.9" r="1.9"/><circle cx="390.1" cy="46.9" r="1.9"/><circle cx="390.9" cy="47.6" r="1.9"/><circle cx="391.5" cy="46.3" r="1.9"/><circle cx="392.3" cy="46.7" r="1.9"/><circle cx="393.0" cy="47.0" r="1.9"/><circle cx="393.4" cy="47.3" r="1.9"/><circle cx="394.0" cy="48.6" r="1.9"/><circle cx="394.9" cy="48.3" r="1.9"/><circle cx="395.4" cy="47.0" r="1.9"/><circle cx="395.9" cy="47.7" r="1.9"/><circle cx="396.4" cy="48.4" r="1.9"/><circle cx="397.1" cy="47.7" r="1.9"/><circle cx="397.7" cy="47.0" r="1.9"/><circle cx="398.6" cy="49.0" r="1.9"/><circle cx="399.1" cy="47.7" r="1.9"/><circle cx="399.3" cy="48.5" r="1.9"/><circle cx="400.6" cy="48.7" r="1.9"/><circle cx="401.2" cy="49.5" r="1.9"/><circle cx="401.9" cy="48.5" r="1.9"/><circle cx="402.5" cy="49.3" r="1.9"/><circle cx="402.7" cy="48.7" r="1.9"/><circle cx="403.4" cy="49.0" r="1.9"/><circle cx="404.4" cy="48.5" r="1.9"/><circle cx="404.6" cy="50.1" r="1.9"/><circle cx="405.7" cy="50.3" r="1.9"/><circle cx="406.0" cy="50.2" r="1.9"/><circle cx="407.2" cy="50.8" r="1.9"/><circle cx="407.5" cy="49.9" r="1.9"/><circle cx="408.1" cy="50.5" r="1.9"/><circle cx="409.0" cy="50.1" r="1.9"/><circle cx="409.2" cy="50.6" r="1.9"/><circle cx="409.9" cy="50.6" r="1.9"/><circle cx="410.7" cy="51.4" r="1.9"/><circle cx="411.5" cy="50.2" r="1.9"/><circle cx="412.0" cy="51.6" r="1.9"/><circle cx="412.4" cy="50.9" r="1.9"/><circle cx="413.4" cy="51.5" r="1.9"/><circle cx="413.9" cy="50.0" r="1.9"/><circle cx="414.2" cy="51.0" r="1.9"/><circle cx="415.1" cy="52.5" r="1.9"/><circle cx="415.5" cy="51.7" r="1.9"/><circle cx="416.4" cy="50.1" r="1.9"/><circle cx="416.8" cy="51.3" r="1.9"/><circle cx="417.4" cy="51.1" r="1.9"/><circle cx="418.2" cy="50.6" r="1.9"/><circle cx="418.9" cy="50.7" r="1.9"/><circle cx="419.3" cy="51.4" r="1.9"/><circle cx="419.9" cy="51.2" r="1.9"/><circle cx="420.9" cy="51.0" r="1.9"/><circle cx="421.2" cy="51.4" r="1.9"/><circle cx="421.8" cy="51.6" r="1.9"/><circle cx="422.3" cy="51.3" r="1.9"/><circle cx="423.0" cy="50.5" r="1.9"/><circle cx="424.1" cy="50.5" r="1.9"/><circle cx="424.7" cy="51.4" r="1.9"/><circle cx="425.3" cy="50.4" r="1.9"/><circle cx="425.9" cy="51.9" r="1.9"/><circle cx="426.3" cy="51.0" r="1.9"/><circle cx="427.4" cy="51.2" r="1.9"/><circle cx="427.5" cy="50.8" r="1.9"/><circle cx="428.3" cy="51.4" r="1.9"/><circle cx="428.9" cy="52.2" r="1.9"/><circle cx="429.4" cy="51.4" r="1.9"/><circle cx="430.3" cy="50.5" r="1.9"/><circle cx="430.9" cy="52.2" r="1.9"/><circle cx="431.1" cy="50.4" r="1.9"/><circle cx="431.7" cy="49.9" r="1.9"/><circle cx="432.6" cy="49.9" r="1.9"/><circle cx="433.3" cy="51.8" r="1.9"/><circle cx="433.5" cy="50.7" r="1.9"/><circle cx="434.1" cy="51.4" r="1.9"/><circle cx="434.9" cy="50.7" r="1.9"/><circle cx="435.7" cy="51.2" r="1.9"/><circle cx="436.3" cy="50.9" r="1.9"/><circle cx="436.9" cy="51.0" r="1.9"/><circle cx="437.4" cy="50.9" r="1.9"/><circle cx="437.9" cy="50.6" r="1.9"/><circle cx="439.2" cy="50.9" r="1.9"/><circle cx="439.3" cy="51.1" r="1.9"/><circle cx="439.9" cy="49.9" r="1.9"/><circle cx="440.6" cy="51.3" r="1.9"/><circle cx="441.4" cy="50.8" r="1.9"/><circle cx="441.8" cy="50.3" r="1.9"/><circle cx="442.8" cy="51.0" r="1.9"/><circle cx="443.0" cy="49.6" r="1.9"/><circle cx="443.5" cy="52.4" r="1.9"/><circle cx="444.2" cy="50.9" r="1.9"/><circle cx="445.0" cy="50.8" r="1.9"/><circle cx="445.6" cy="49.9" r="1.9"/><circle cx="446.1" cy="51.6" r="1.9"/><circle cx="446.7" cy="50.9" r="1.9"/><circle cx="447.2" cy="50.1" r="1.9"/><circle cx="448.2" cy="50.7" r="1.9"/><circle cx="448.5" cy="50.3" r="1.9"/><circle cx="449.4" cy="49.3" r="1.9"/><circle cx="450.1" cy="49.0" r="1.9"/><circle cx="450.5" cy="49.4" r="1.9"/><circle cx="450.7" cy="49.2" r="1.9"/><circle cx="451.7" cy="48.3" r="1.9"/><circle cx="452.4" cy="49.5" r="1.9"/><circle cx="453.1" cy="49.7" r="1.9"/><circle cx="453.6" cy="48.0" r="1.9"/><circle cx="454.7" cy="48.9" r="1.9"/><circle cx="455.2" cy="48.0" r="1.9"/><circle cx="455.8" cy="48.6" r="1.9"/><circle cx="456.4" cy="48.3" r="1.9"/><circle cx="457.1" cy="47.8" r="1.9"/><circle cx="457.4" cy="47.1" r="1.9"/><circle cx="458.4" cy="47.5" r="1.9"/><circle cx="458.6" cy="47.2" r="1.9"/><circle cx="459.3" cy="46.9" r="1.9"/><circle cx="460.0" cy="47.1" r="1.9"/><circle cx="460.6" cy="46.8" r="1.9"/><circle cx="461.3" cy="47.0" r="1.9"/><circle cx="461.9" cy="47.2" r="1.9"/><circle cx="462.6" cy="45.7" r="1.9"/><circle cx="463.2" cy="46.5" r="1.9"/><circle cx="464.1" cy="46.0" r="1.9"/><circle cx="464.5" cy="46.7" r="1.9"/><circle cx="465.2" cy="47.4" r="1.9"/><circle cx="465.9" cy="47.6" r="1.9"/><circle cx="466.3" cy="46.1" r="1.9"/><circle cx="467.4" cy="47.7" r="1.9"/><circle cx="468.0" cy="47.7" r="1.9"/><circle cx="468.6" cy="47.1" r="1.9"/><circle cx="469.3" cy="47.8" r="1.9"/><circle cx="470.0" cy="48.4" r="1.9"/><circle cx="470.1" cy="47.6" r="1.9"/><circle cx="471.2" cy="48.4" r="1.9"/><circle cx="471.6" cy="48.7" r="1.9"/><circle cx="472.2" cy="48.3" r="1.9"/><circle cx="472.9" cy="48.8" r="1.9"/><circle cx="473.8" cy="48.8" r="1.9"/><circle cx="474.5" cy="49.9" r="1.9"/><circle cx="475.1" cy="49.5" r="1.9"/><circle cx="475.4" cy="49.0" r="1.9"/><circle cx="476.0" cy="48.6" r="1.9"/><circle cx="476.6" cy="48.7" r="1.9"/><circle cx="477.5" cy="49.5" r="1.9"/><circle cx="477.8" cy="48.1" r="1.9"/><circle cx="478.5" cy="49.1" r="1.9"/><circle cx="478.9" cy="48.7" r="1.9"/><circle cx="479.3" cy="49.8" r="1.9"/><circle cx="480.3" cy="51.0" r="1.9"/><circle cx="480.9" cy="49.5" r="1.9"/><circle cx="481.8" cy="49.7" r="1.9"/><circle cx="482.2" cy="49.5" r="1.9"/><circle cx="482.7" cy="50.7" r="1.9"/><circle cx="483.6" cy="51.0" r="1.9"/><circle cx="484.0" cy="50.1" r="1.9"/><circle cx="484.5" cy="50.8" r="1.9"/><circle cx="485.1" cy="50.7" r="1.9"/><circle cx="486.1" cy="51.3" r="1.9"/><circle cx="486.4" cy="51.3" r="1.9"/><circle cx="487.0" cy="50.3" r="1.9"/><circle cx="487.6" cy="51.6" r="1.9"/><circle cx="488.7" cy="50.6" r="1.9"/><circle cx="488.9" cy="50.9" r="1.9"/><circle cx="490.2" cy="51.7" r="1.9"/><circle cx="490.2" cy="50.1" r="1.9"/><circle cx="490.8" cy="52.0" r="1.9"/><circle cx="491.9" cy="51.2" r="1.9"/><circle cx="492.1" cy="51.1" r="1.9"/><circle cx="492.5" cy="52.1" r="1.9"/><circle cx="493.3" cy="52.2" r="1.9"/><circle cx="493.8" cy="51.0" r="1.9"/><circle cx="494.9" cy="51.4" r="1.9"/><circle cx="495.6" cy="52.1" r="1.9"/><circle cx="495.9" cy="52.6" r="1.9"/><circle cx="496.9" cy="51.2" r="1.9"/><circle cx="497.4" cy="52.5" r="1.9"/></g>
<polyline points="68.7,129.6 71.9,130.6 77.5,130.4 83.2,130.0 88.8,129.0 93.3,130.5 96.7,133.0 96.9,134.0" fill="none" stroke="#80279A" stroke-width="3.0" stroke-linecap="round" stroke-linejoin="round"/>
<g fill="#80279A"><circle cx="69.0" cy="129.8" r="1.9"/><circle cx="69.5" cy="128.9" r="1.9"/><circle cx="69.9" cy="129.8" r="1.9"/><circle cx="70.8" cy="129.5" r="1.9"/><circle cx="71.1" cy="129.4" r="1.9"/><circle cx="71.9" cy="130.8" r="1.9"/><circle cx="72.3" cy="130.3" r="1.9"/><circle cx="73.2" cy="131.3" r="1.9"/><circle cx="73.9" cy="130.4" r="1.9"/><circle cx="74.2" cy="130.0" r="1.9"/><circle cx="74.9" cy="130.6" r="1.9"/><circle cx="75.6" cy="131.3" r="1.9"/><circle cx="76.3" cy="129.9" r="1.9"/><circle cx="77.1" cy="130.9" r="1.9"/><circle cx="77.5" cy="130.0" r="1.9"/><circle cx="77.9" cy="129.8" r="1.9"/><circle cx="78.9" cy="129.9" r="1.9"/><circle cx="79.2" cy="130.4" r="1.9"/><circle cx="80.1" cy="130.5" r="1.9"/><circle cx="80.8" cy="130.9" r="1.9"/><circle cx="81.2" cy="130.6" r="1.9"/><circle cx="81.8" cy="130.4" r="1.9"/><circle cx="82.6" cy="130.2" r="1.9"/><circle cx="83.3" cy="130.0" r="1.9"/><circle cx="84.0" cy="130.3" r="1.9"/><circle cx="84.5" cy="129.5" r="1.9"/><circle cx="85.0" cy="129.4" r="1.9"/><circle cx="85.7" cy="129.5" r="1.9"/><circle cx="86.8" cy="129.8" r="1.9"/><circle cx="87.0" cy="128.9" r="1.9"/><circle cx="87.4" cy="129.1" r="1.9"/><circle cx="88.2" cy="128.6" r="1.9"/><circle cx="89.0" cy="128.7" r="1.9"/><circle cx="89.6" cy="128.0" r="1.9"/><circle cx="90.1" cy="129.6" r="1.9"/><circle cx="90.8" cy="129.9" r="1.9"/><circle cx="91.4" cy="129.9" r="1.9"/><circle cx="91.7" cy="129.7" r="1.9"/><circle cx="92.3" cy="130.6" r="1.9"/><circle cx="93.3" cy="130.4" r="1.9"/><circle cx="93.7" cy="130.6" r="1.9"/><circle cx="94.5" cy="132.1" r="1.9"/><circle cx="94.7" cy="132.2" r="1.9"/><circle cx="95.0" cy="131.0" r="1.9"/><circle cx="95.7" cy="131.8" r="1.9"/><circle cx="96.1" cy="132.7" r="1.9"/><circle cx="97.2" cy="132.7" r="1.9"/><circle cx="96.9" cy="134.0" r="1.9"/></g>
<polyline points="116.3,134.8 116.3,131.2 118.5,132.6 125.8,132.7 131.5,132.9 137.1,133.1 142.7,132.7 148.4,131.6 152.9,131.4 155.6,131.8 161.3,132.7 166.9,132.9 172.5,133.5 178.2,134.0 183.8,134.6 189.5,135.2 195.1,134.9 200.7,134.6 206.4,134.0 210.9,132.7 213.6,132.1 219.3,131.7 224.9,132.1 230.5,132.3 236.2,132.5 241.8,133.2 247.5,133.6 253.1,134.3 258.7,133.6 264.4,132.5 268.9,131.6 271.6,130.6 277.3,130.0 282.9,128.9 288.5,128.3 294.2,128.3 297.6,129.8 299.8,127.8 305.5,128.3 311.1,128.9 316.7,128.9 322.4,130.0 326.9,131.4 329.6,131.7 335.3,132.9 340.9,133.2 346.5,133.4 352.2,132.3 357.8,131.4 363.5,130.9 369.1,130.3 374.7,129.8 380.4,130.3 384.9,130.5 387.6,130.9 393.3,131.1 398.9,131.5 404.5,131.1 412.4,130.3 418.1,132.6 421.5,134.1 427.1,135.4 432.7,136.0 438.4,136.5 442.9,137.1 445.6,136.9 451.3,136.3 455.2,135.2 460.3,136.3 467.1,135.2 471.6,136.1 476.1,136.5 481.7,137.4 487.4,138.0 493.0,138.5 497.5,138.5" fill="none" stroke="#80279A" stroke-width="3.6" stroke-linecap="round" stroke-linejoin="round"/>
<g fill="#80279A"><circle cx="116.3" cy="135.0" r="1.9"/><circle cx="116.3" cy="134.8" r="1.9"/><circle cx="116.6" cy="132.9" r="1.9"/><circle cx="116.3" cy="132.8" r="1.9"/><circle cx="116.4" cy="131.5" r="1.9"/><circle cx="116.0" cy="130.4" r="1.9"/><circle cx="116.4" cy="131.3" r="1.9"/><circle cx="116.9" cy="130.1" r="1.9"/><circle cx="117.3" cy="131.4" r="1.9"/><circle cx="117.7" cy="131.7" r="1.9"/><circle cx="118.6" cy="132.9" r="1.9"/><circle cx="119.1" cy="132.9" r="1.9"/><circle cx="119.6" cy="132.7" r="1.9"/><circle cx="120.3" cy="133.0" r="1.9"/><circle cx="120.9" cy="132.5" r="1.9"/><circle cx="121.5" cy="132.3" r="1.9"/><circle cx="122.6" cy="133.0" r="1.9"/><circle cx="122.8" cy="134.0" r="1.9"/><circle cx="123.6" cy="131.7" r="1.9"/><circle cx="124.1" cy="133.2" r="1.9"/><circle cx="124.9" cy="133.5" r="1.9"/><circle cx="125.3" cy="132.0" r="1.9"/><circle cx="125.6" cy="132.9" r="1.9"/><circle cx="126.5" cy="132.1" r="1.9"/><circle cx="127.0" cy="132.5" r="1.9"/><circle cx="127.7" cy="133.0" r="1.9"/><circle cx="128.3" cy="132.0" r="1.9"/><circle cx="129.2" cy="133.8" r="1.9"/><circle cx="129.6" cy="133.4" r="1.9"/><circle cx="130.3" cy="133.3" r="1.9"/><circle cx="131.0" cy="132.4" r="1.9"/><circle cx="131.6" cy="133.5" r="1.9"/><circle cx="132.0" cy="134.1" r="1.9"/><circle cx="133.1" cy="134.0" r="1.9"/><circle cx="133.7" cy="133.4" r="1.9"/><circle cx="133.9" cy="132.6" r="1.9"/><circle cx="134.5" cy="133.1" r="1.9"/><circle cx="135.2" cy="133.4" r="1.9"/><circle cx="135.5" cy="134.4" r="1.9"/><circle cx="136.9" cy="133.1" r="1.9"/><circle cx="137.2" cy="133.4" r="1.9"/><circle cx="137.8" cy="132.9" r="1.9"/><circle cx="138.3" cy="132.5" r="1.9"/><circle cx="139.0" cy="133.0" r="1.9"/><circle cx="139.6" cy="132.4" r="1.9"/><circle cx="140.2" cy="132.9" r="1.9"/><circle cx="140.9" cy="132.2" r="1.9"/><circle cx="141.5" cy="133.4" r="1.9"/><circle cx="142.2" cy="132.5" r="1.9"/><circle cx="142.6" cy="132.6" r="1.9"/><circle cx="143.5" cy="133.5" r="1.9"/><circle cx="143.9" cy="132.1" r="1.9"/><circle cx="144.7" cy="132.5" r="1.9"/><circle cx="145.1" cy="131.8" r="1.9"/><circle cx="145.8" cy="132.5" r="1.9"/><circle cx="146.3" cy="131.4" r="1.9"/><circle cx="147.2" cy="131.1" r="1.9"/><circle cx="147.8" cy="131.9" r="1.9"/><circle cx="148.4" cy="131.0" r="1.9"/><circle cx="149.0" cy="131.4" r="1.9"/><circle cx="149.7" cy="131.0" r="1.9"/><circle cx="150.5" cy="130.5" r="1.9"/><circle cx="150.9" cy="131.5" r="1.9"/><circle cx="151.8" cy="131.1" r="1.9"/><circle cx="152.4" cy="131.1" r="1.9"/><circle cx="153.0" cy="132.4" r="1.9"/><circle cx="153.5" cy="131.8" r="1.9"/><circle cx="154.1" cy="132.2" r="1.9"/><circle cx="155.1" cy="131.7" r="1.9"/><circle cx="155.4" cy="132.0" r="1.9"/><circle cx="156.4" cy="132.6" r="1.9"/><circle cx="157.0" cy="130.9" r="1.9"/><circle cx="157.4" cy="133.0" r="1.9"/><circle cx="157.9" cy="132.9" r="1.9"/><circle cx="159.1" cy="132.8" r="1.9"/><circle cx="159.6" cy="132.2" r="1.9"/><circle cx="159.8" cy="132.4" r="1.9"/><circle cx="160.6" cy="132.6" r="1.9"/><circle cx="161.4" cy="132.6" r="1.9"/><circle cx="162.0" cy="133.0" r="1.9"/><circle cx="162.5" cy="133.9" r="1.9"/><circle cx="163.2" cy="132.8" r="1.9"/><circle cx="163.8" cy="132.4" r="1.9"/><circle cx="164.7" cy="132.9" r="1.9"/><circle cx="164.8" cy="132.5" r="1.9"/><circle cx="165.6" cy="132.6" r="1.9"/><circle cx="166.5" cy="132.2" r="1.9"/><circle cx="167.0" cy="133.0" r="1.9"/><circle cx="167.3" cy="133.0" r="1.9"/><circle cx="168.1" cy="133.3" r="1.9"/><circle cx="168.7" cy="133.3" r="1.9"/><circle cx="169.1" cy="132.5" r="1.9"/><circle cx="170.2" cy="133.9" r="1.9"/><circle cx="170.6" cy="132.9" r="1.9"/><circle cx="171.5" cy="132.1" r="1.9"/><circle cx="171.7" cy="133.8" r="1.9"/><circle cx="172.6" cy="132.9" r="1.9"/><circle cx="172.8" cy="134.4" r="1.9"/><circle cx="173.8" cy="133.1" r="1.9"/><circle cx="174.4" cy="134.2" r="1.9"/><circle cx="174.6" cy="134.4" r="1.9"/><circle cx="175.8" cy="132.5" r="1.9"/><circle cx="176.4" cy="132.8" r="1.9"/><circle cx="177.1" cy="134.1" r="1.9"/><circle cx="178.0" cy="133.6" r="1.9"/><circle cx="178.2" cy="134.6" r="1.9"/><circle cx="178.7" cy="133.6" r="1.9"/><circle cx="179.4" cy="134.1" r="1.9"/><circle cx="179.9" cy="134.5" r="1.9"/><circle cx="180.8" cy="134.3" r="1.9"/><circle cx="181.6" cy="134.1" r="1.9"/><circle cx="182.2" cy="134.1" r="1.9"/><circle cx="182.7" cy="133.3" r="1.9"/><circle cx="183.2" cy="134.4" r="1.9"/><circle cx="183.7" cy="134.2" r="1.9"/><circle cx="184.4" cy="134.2" r="1.9"/><circle cx="184.7" cy="134.4" r="1.9"/><circle cx="185.6" cy="134.5" r="1.9"/><circle cx="186.1" cy="134.8" r="1.9"/><circle cx="187.1" cy="134.8" r="1.9"/><circle cx="187.5" cy="135.8" r="1.9"/><circle cx="188.4" cy="135.6" r="1.9"/><circle cx="189.1" cy="134.9" r="1.9"/><circle cx="189.5" cy="135.9" r="1.9"/><circle cx="190.0" cy="135.1" r="1.9"/><circle cx="190.8" cy="135.4" r="1.9"/><circle cx="191.3" cy="135.7" r="1.9"/><circle cx="192.0" cy="135.5" r="1.9"/><circle cx="192.8" cy="135.4" r="1.9"/><circle cx="193.4" cy="134.3" r="1.9"/><circle cx="193.6" cy="134.6" r="1.9"/><circle cx="194.6" cy="135.8" r="1.9"/><circle cx="194.9" cy="135.1" r="1.9"/><circle cx="195.6" cy="134.4" r="1.9"/><circle cx="196.3" cy="135.2" r="1.9"/><circle cx="197.0" cy="135.5" r="1.9"/><circle cx="197.4" cy="135.3" r="1.9"/><circle cx="198.4" cy="134.8" r="1.9"/><circle cx="198.9" cy="134.4" r="1.9"/><circle cx="199.3" cy="134.4" r="1.9"/><circle cx="200.0" cy="136.4" r="1.9"/><circle cx="200.6" cy="135.6" r="1.9"/><circle cx="201.4" cy="134.7" r="1.9"/><circle cx="202.1" cy="134.0" r="1.9"/><circle cx="202.8" cy="134.6" r="1.9"/><circle cx="203.0" cy="134.7" r="1.9"/><circle cx="204.0" cy="134.5" r="1.9"/><circle cx="204.8" cy="134.0" r="1.9"/><circle cx="205.2" cy="134.6" r="1.9"/><circle cx="205.6" cy="134.8" r="1.9"/><circle cx="206.1" cy="133.2" r="1.9"/><circle cx="207.1" cy="133.2" r="1.9"/><circle cx="207.7" cy="132.6" r="1.9"/><circle cx="208.3" cy="132.8" r="1.9"/><circle cx="209.0" cy="132.3" r="1.9"/><circle cx="209.7" cy="132.9" r="1.9"/><circle cx="210.3" cy="132.8" r="1.9"/><circle cx="210.9" cy="131.9" r="1.9"/><circle cx="211.1" cy="132.6" r="1.9"/><circle cx="212.1" cy="132.1" r="1.9"/><circle cx="213.0" cy="131.1" r="1.9"/><circle cx="213.5" cy="131.7" r="1.9"/><circle cx="214.0" cy="132.3" r="1.9"/><circle cx="214.8" cy="131.5" r="1.9"/><circle cx="215.3" cy="132.5" r="1.9"/><circle cx="216.0" cy="132.3" r="1.9"/><circle cx="216.8" cy="130.7" r="1.9"/><circle cx="217.2" cy="131.8" r="1.9"/><circle cx="218.1" cy="132.3" r="1.9"/><circle cx="218.8" cy="132.4" r="1.9"/><circle cx="219.2" cy="131.6" r="1.9"/><circle cx="220.1" cy="131.5" r="1.9"/><circle cx="220.7" cy="130.8" r="1.9"/><circle cx="221.3" cy="131.7" r="1.9"/><circle cx="221.4" cy="132.5" r="1.9"/><circle cx="222.5" cy="131.9" r="1.9"/><circle cx="222.8" cy="131.7" r="1.9"/><circle cx="223.9" cy="131.5" r="1.9"/><circle cx="223.7" cy="131.5" r="1.9"/><circle cx="224.7" cy="132.0" r="1.9"/><circle cx="225.5" cy="131.6" r="1.9"/><circle cx="226.0" cy="132.8" r="1.9"/><circle cx="226.5" cy="133.3" r="1.9"/><circle cx="227.3" cy="131.5" r="1.9"/><circle cx="228.2" cy="132.5" r="1.9"/><circle cx="228.4" cy="132.7" r="1.9"/><circle cx="228.9" cy="131.7" r="1.9"/><circle cx="230.1" cy="132.1" r="1.9"/><circle cx="230.3" cy="132.6" r="1.9"/><circle cx="231.3" cy="132.3" r="1.9"/><circle cx="231.4" cy="132.1" r="1.9"/><circle cx="232.5" cy="132.8" r="1.9"/><circle cx="233.4" cy="132.2" r="1.9"/><circle cx="233.6" cy="132.4" r="1.9"/><circle cx="234.5" cy="131.9" r="1.9"/><circle cx="235.2" cy="130.8" r="1.9"/><circle cx="235.7" cy="132.1" r="1.9"/><circle cx="236.3" cy="132.9" r="1.9"/><circle cx="236.6" cy="132.5" r="1.9"/><circle cx="237.5" cy="133.0" r="1.9"/><circle cx="237.9" cy="132.1" r="1.9"/><circle cx="238.3" cy="134.3" r="1.9"/><circle cx="239.3" cy="132.8" r="1.9"/><circle cx="239.7" cy="133.5" r="1.9"/><circle cx="240.5" cy="133.9" r="1.9"/><circle cx="241.3" cy="133.1" r="1.9"/><circle cx="241.9" cy="132.5" r="1.9"/><circle cx="242.4" cy="132.9" r="1.9"/><circle cx="242.8" cy="133.3" r="1.9"/><circle cx="243.7" cy="134.2" r="1.9"/><circle cx="243.7" cy="133.0" r="1.9"/><circle cx="244.8" cy="133.1" r="1.9"/><circle cx="245.7" cy="133.7" r="1.9"/><circle cx="246.2" cy="133.2" r="1.9"/><circle cx="247.0" cy="133.8" r="1.9"/><circle cx="247.2" cy="133.4" r="1.9"/><circle cx="247.9" cy="133.0" r="1.9"/><circle cx="248.8" cy="133.8" r="1.9"/><circle cx="249.4" cy="133.3" r="1.9"/><circle cx="250.0" cy="133.4" r="1.9"/><circle cx="250.7" cy="134.4" r="1.9"/><circle cx="251.5" cy="134.8" r="1.9"/><circle cx="251.7" cy="133.9" r="1.9"/><circle cx="252.3" cy="134.4" r="1.9"/><circle cx="253.5" cy="134.7" r="1.9"/><circle cx="253.3" cy="133.5" r="1.9"/><circle cx="254.1" cy="134.5" r="1.9"/><circle cx="255.0" cy="134.2" r="1.9"/><circle cx="255.9" cy="133.5" r="1.9"/><circle cx="256.1" cy="135.1" r="1.9"/><circle cx="256.9" cy="133.4" r="1.9"/><circle cx="257.1" cy="132.8" r="1.9"/><circle cx="257.6" cy="133.7" r="1.9"/><circle cx="258.7" cy="134.2" r="1.9"/><circle cx="259.3" cy="133.1" r="1.9"/><circle cx="259.8" cy="134.5" r="1.9"/><circle cx="260.3" cy="133.3" r="1.9"/><circle cx="261.2" cy="133.5" r="1.9"/><circle cx="261.8" cy="133.3" r="1.9"/><circle cx="262.6" cy="132.8" r="1.9"/><circle cx="263.1" cy="132.6" r="1.9"/><circle cx="263.6" cy="132.5" r="1.9"/><circle cx="264.3" cy="132.6" r="1.9"/><circle cx="265.3" cy="133.2" r="1.9"/><circle cx="265.6" cy="132.6" r="1.9"/><circle cx="266.4" cy="132.6" r="1.9"/><circle cx="267.0" cy="132.1" r="1.9"/><circle cx="267.5" cy="131.4" r="1.9"/><circle cx="268.4" cy="132.5" r="1.9"/><circle cx="269.0" cy="131.9" r="1.9"/><circle cx="269.6" cy="131.1" r="1.9"/><circle cx="269.9" cy="131.5" r="1.9"/><circle cx="271.0" cy="130.5" r="1.9"/><circle cx="271.4" cy="131.4" r="1.9"/><circle cx="271.9" cy="131.6" r="1.9"/><circle cx="273.0" cy="131.9" r="1.9"/><circle cx="273.4" cy="130.4" r="1.9"/><circle cx="274.0" cy="130.4" r="1.9"/><circle cx="274.7" cy="129.8" r="1.9"/><circle cx="275.6" cy="129.7" r="1.9"/><circle cx="275.9" cy="130.5" r="1.9"/><circle cx="276.6" cy="129.8" r="1.9"/><circle cx="277.4" cy="129.8" r="1.9"/><circle cx="277.7" cy="129.8" r="1.9"/><circle cx="278.5" cy="130.8" r="1.9"/><circle cx="279.0" cy="130.2" r="1.9"/><circle cx="279.6" cy="129.3" r="1.9"/><circle cx="280.4" cy="129.6" r="1.9"/><circle cx="281.2" cy="130.3" r="1.9"/><circle cx="281.5" cy="129.9" r="1.9"/><circle cx="282.5" cy="129.5" r="1.9"/><circle cx="282.8" cy="129.4" r="1.9"/><circle cx="283.5" cy="129.0" r="1.9"/><circle cx="284.1" cy="129.2" r="1.9"/><circle cx="285.0" cy="129.4" r="1.9"/><circle cx="285.4" cy="129.2" r="1.9"/><circle cx="286.3" cy="128.0" r="1.9"/><circle cx="286.9" cy="127.7" r="1.9"/><circle cx="287.4" cy="128.8" r="1.9"/><circle cx="288.1" cy="128.5" r="1.9"/><circle cx="288.4" cy="127.8" r="1.9"/><circle cx="288.9" cy="128.8" r="1.9"/><circle cx="289.7" cy="127.9" r="1.9"/><circle cx="290.5" cy="127.8" r="1.9"/><circle cx="291.0" cy="128.0" r="1.9"/><circle cx="292.0" cy="129.2" r="1.9"/><circle cx="292.3" cy="127.4" r="1.9"/><circle cx="293.0" cy="128.3" r="1.9"/><circle cx="293.6" cy="128.6" r="1.9"/><circle cx="294.1" cy="128.9" r="1.9"/><circle cx="294.9" cy="128.7" r="1.9"/><circle cx="295.3" cy="128.5" r="1.9"/><circle cx="296.0" cy="128.4" r="1.9"/><circle cx="296.4" cy="128.9" r="1.9"/><circle cx="296.8" cy="129.9" r="1.9"/><circle cx="297.6" cy="129.8" r="1.9"/><circle cx="298.3" cy="128.4" r="1.9"/><circle cx="298.7" cy="129.0" r="1.9"/><circle cx="299.4" cy="127.6" r="1.9"/><circle cx="299.9" cy="127.9" r="1.9"/><circle cx="300.7" cy="128.5" r="1.9"/><circle cx="301.2" cy="129.2" r="1.9"/><circle cx="301.7" cy="127.7" r="1.9"/><circle cx="302.3" cy="127.5" r="1.9"/><circle cx="303.0" cy="127.0" r="1.9"/><circle cx="303.6" cy="128.4" r="1.9"/><circle cx="304.4" cy="128.0" r="1.9"/><circle cx="305.1" cy="127.9" r="1.9"/><circle cx="305.5" cy="127.2" r="1.9"/><circle cx="306.0" cy="127.9" r="1.9"/><circle cx="307.0" cy="128.7" r="1.9"/><circle cx="307.2" cy="128.8" r="1.9"/><circle cx="308.1" cy="128.4" r="1.9"/><circle cx="308.6" cy="128.5" r="1.9"/><circle cx="309.1" cy="127.7" r="1.9"/><circle cx="309.8" cy="129.5" r="1.9"/><circle cx="310.7" cy="128.7" r="1.9"/><circle cx="311.0" cy="128.8" r="1.9"/><circle cx="311.9" cy="129.1" r="1.9"/><circle cx="312.2" cy="129.1" r="1.9"/><circle cx="312.9" cy="129.2" r="1.9"/><circle cx="313.5" cy="128.0" r="1.9"/><circle cx="314.2" cy="129.3" r="1.9"/><circle cx="314.6" cy="128.8" r="1.9"/><circle cx="315.6" cy="128.7" r="1.9"/><circle cx="316.0" cy="130.1" r="1.9"/><circle cx="316.8" cy="129.5" r="1.9"/><circle cx="317.2" cy="130.0" r="1.9"/><circle cx="317.7" cy="128.8" r="1.9"/><circle cx="318.7" cy="130.0" r="1.9"/><circle cx="319.1" cy="129.0" r="1.9"/><circle cx="319.9" cy="128.4" r="1.9"/><circle cx="320.6" cy="130.0" r="1.9"/><circle cx="321.1" cy="130.1" r="1.9"/><circle cx="321.9" cy="130.1" r="1.9"/><circle cx="322.5" cy="130.9" r="1.9"/><circle cx="323.0" cy="130.3" r="1.9"/><circle cx="323.6" cy="131.0" r="1.9"/><circle cx="324.3" cy="130.9" r="1.9"/><circle cx="325.0" cy="130.8" r="1.9"/><circle cx="325.9" cy="131.0" r="1.9"/><circle cx="326.5" cy="131.7" r="1.9"/><circle cx="327.1" cy="131.3" r="1.9"/><circle cx="327.7" cy="131.9" r="1.9"/><circle cx="328.1" cy="131.7" r="1.9"/><circle cx="328.9" cy="131.6" r="1.9"/><circle cx="329.8" cy="131.3" r="1.9"/><circle cx="329.9" cy="130.8" r="1.9"/><circle cx="330.8" cy="131.6" r="1.9"/><circle cx="331.5" cy="132.4" r="1.9"/><circle cx="332.4" cy="132.4" r="1.9"/><circle cx="332.8" cy="131.9" r="1.9"/><circle cx="333.5" cy="133.3" r="1.9"/><circle cx="334.3" cy="131.5" r="1.9"/><circle cx="334.8" cy="133.7" r="1.9"/><circle cx="335.4" cy="132.0" r="1.9"/><circle cx="335.9" cy="133.3" r="1.9"/><circle cx="336.6" cy="132.5" r="1.9"/><circle cx="337.0" cy="133.6" r="1.9"/><circle cx="337.6" cy="133.9" r="1.9"/><circle cx="338.4" cy="133.2" r="1.9"/><circle cx="338.8" cy="132.8" r="1.9"/><circle cx="339.8" cy="132.3" r="1.9"/><circle cx="340.6" cy="132.4" r="1.9"/><circle cx="340.7" cy="133.2" r="1.9"/><circle cx="341.6" cy="133.6" r="1.9"/><circle cx="342.1" cy="133.1" r="1.9"/><circle cx="342.7" cy="132.9" r="1.9"/><circle cx="342.9" cy="133.8" r="1.9"/><circle cx="344.1" cy="133.4" r="1.9"/><circle cx="344.5" cy="133.5" r="1.9"/><circle cx="345.3" cy="133.3" r="1.9"/><circle cx="346.1" cy="132.4" r="1.9"/><circle cx="346.5" cy="132.8" r="1.9"/><circle cx="347.1" cy="134.1" r="1.9"/><circle cx="347.6" cy="133.1" r="1.9"/><circle cx="348.3" cy="133.6" r="1.9"/><circle cx="348.9" cy="131.9" r="1.9"/><circle cx="349.8" cy="132.6" r="1.9"/><circle cx="350.2" cy="133.3" r="1.9"/><circle cx="350.8" cy="132.3" r="1.9"/><circle cx="351.6" cy="132.7" r="1.9"/><circle cx="352.1" cy="132.9" r="1.9"/><circle cx="353.2" cy="132.0" r="1.9"/><circle cx="353.8" cy="130.9" r="1.9"/><circle cx="354.3" cy="131.8" r="1.9"/><circle cx="354.7" cy="131.7" r="1.9"/><circle cx="355.2" cy="131.1" r="1.9"/><circle cx="355.9" cy="132.4" r="1.9"/><circle cx="356.8" cy="131.4" r="1.9"/><circle cx="357.1" cy="131.1" r="1.9"/><circle cx="357.6" cy="132.4" r="1.9"/><circle cx="358.5" cy="131.4" r="1.9"/><circle cx="359.0" cy="130.7" r="1.9"/><circle cx="359.9" cy="131.7" r="1.9"/><circle cx="360.2" cy="131.7" r="1.9"/><circle cx="360.8" cy="131.5" r="1.9"/><circle cx="361.4" cy="130.8" r="1.9"/><circle cx="362.3" cy="131.3" r="1.9"/><circle cx="363.0" cy="130.5" r="1.9"/><circle cx="363.8" cy="131.7" r="1.9"/><circle cx="364.1" cy="131.1" r="1.9"/><circle cx="364.6" cy="130.7" r="1.9"/><circle cx="365.1" cy="130.8" r="1.9"/><circle cx="366.0" cy="131.4" r="1.9"/><circle cx="366.8" cy="131.0" r="1.9"/><circle cx="367.2" cy="130.4" r="1.9"/><circle cx="367.8" cy="130.6" r="1.9"/><circle cx="368.1" cy="130.8" r="1.9"/><circle cx="368.8" cy="130.0" r="1.9"/><circle cx="369.7" cy="129.9" r="1.9"/><circle cx="370.6" cy="130.1" r="1.9"/><circle cx="371.2" cy="130.8" r="1.9"/><circle cx="371.5" cy="130.3" r="1.9"/><circle cx="372.4" cy="129.8" r="1.9"/><circle cx="372.8" cy="129.6" r="1.9"/><circle cx="373.5" cy="129.7" r="1.9"/><circle cx="374.1" cy="130.4" r="1.9"/><circle cx="374.9" cy="129.9" r="1.9"/><circle cx="375.4" cy="130.3" r="1.9"/><circle cx="375.9" cy="129.3" r="1.9"/><circle cx="376.8" cy="129.4" r="1.9"/><circle cx="377.4" cy="129.5" r="1.9"/><circle cx="378.2" cy="129.5" r="1.9"/><circle cx="378.6" cy="131.0" r="1.9"/><circle cx="379.0" cy="131.0" r="1.9"/><circle cx="379.6" cy="129.2" r="1.9"/><circle cx="380.5" cy="130.7" r="1.9"/><circle cx="381.0" cy="128.9" r="1.9"/><circle cx="381.7" cy="130.2" r="1.9"/><circle cx="382.3" cy="130.2" r="1.9"/><circle cx="382.7" cy="130.1" r="1.9"/><circle cx="383.9" cy="131.3" r="1.9"/><circle cx="384.2" cy="130.1" r="1.9"/><circle cx="385.0" cy="131.1" r="1.9"/><circle cx="385.7" cy="129.9" r="1.9"/><circle cx="386.3" cy="130.8" r="1.9"/><circle cx="387.2" cy="131.5" r="1.9"/><circle cx="387.7" cy="131.6" r="1.9"/><circle cx="388.2" cy="131.8" r="1.9"/><circle cx="388.8" cy="131.2" r="1.9"/><circle cx="389.7" cy="130.4" r="1.9"/><circle cx="390.0" cy="130.0" r="1.9"/><circle cx="390.8" cy="131.0" r="1.9"/><circle cx="391.3" cy="131.3" r="1.9"/><circle cx="391.7" cy="131.0" r="1.9"/><circle cx="392.7" cy="130.9" r="1.9"/><circle cx="393.4" cy="132.1" r="1.9"/><circle cx="393.8" cy="130.6" r="1.9"/><circle cx="394.4" cy="131.2" r="1.9"/><circle cx="395.3" cy="130.7" r="1.9"/><circle cx="396.0" cy="130.7" r="1.9"/><circle cx="396.6" cy="131.6" r="1.9"/><circle cx="397.1" cy="132.6" r="1.9"/><circle cx="397.6" cy="131.3" r="1.9"/><circle cx="398.4" cy="132.0" r="1.9"/><circle cx="398.7" cy="131.7" r="1.9"/><circle cx="399.4" cy="131.8" r="1.9"/><circle cx="400.4" cy="131.4" r="1.9"/><circle cx="400.7" cy="131.5" r="1.9"/><circle cx="400.9" cy="131.8" r="1.9"/><circle cx="402.1" cy="131.4" r="1.9"/><circle cx="402.6" cy="130.8" r="1.9"/><circle cx="403.2" cy="131.9" r="1.9"/><circle cx="403.9" cy="131.9" r="1.9"/><circle cx="404.1" cy="130.8" r="1.9"/><circle cx="405.2" cy="131.0" r="1.9"/><circle cx="405.4" cy="130.6" r="1.9"/><circle cx="406.5" cy="130.2" r="1.9"/><circle cx="406.8" cy="130.2" r="1.9"/><circle cx="407.4" cy="131.2" r="1.9"/><circle cx="408.2" cy="129.6" r="1.9"/><circle cx="409.0" cy="130.3" r="1.9"/><circle cx="409.3" cy="131.6" r="1.9"/><circle cx="410.0" cy="129.8" r="1.9"/><circle cx="410.5" cy="130.1" r="1.9"/><circle cx="411.0" cy="130.2" r="1.9"/><circle cx="411.9" cy="130.6" r="1.9"/><circle cx="412.2" cy="131.9" r="1.9"/><circle cx="412.8" cy="130.6" r="1.9"/><circle cx="413.5" cy="131.2" r="1.9"/><circle cx="414.1" cy="131.3" r="1.9"/><circle cx="415.0" cy="131.3" r="1.9"/><circle cx="415.1" cy="131.6" r="1.9"/><circle cx="415.7" cy="131.5" r="1.9"/><circle cx="416.4" cy="132.1" r="1.9"/><circle cx="416.9" cy="132.6" r="1.9"/><circle cx="417.5" cy="131.6" r="1.9"/><circle cx="418.3" cy="132.4" r="1.9"/><circle cx="418.9" cy="132.5" r="1.9"/><circle cx="419.3" cy="133.3" r="1.9"/><circle cx="419.3" cy="132.5" r="1.9"/><circle cx="420.2" cy="134.4" r="1.9"/><circle cx="420.6" cy="134.4" r="1.9"/><circle cx="421.7" cy="134.4" r="1.9"/><circle cx="422.2" cy="134.0" r="1.9"/><circle cx="422.7" cy="134.5" r="1.9"/><circle cx="423.4" cy="134.9" r="1.9"/><circle cx="424.0" cy="134.3" r="1.9"/><circle cx="424.5" cy="135.1" r="1.9"/><circle cx="424.9" cy="134.2" r="1.9"/><circle cx="425.8" cy="134.8" r="1.9"/><circle cx="426.4" cy="133.7" r="1.9"/><circle cx="427.0" cy="135.3" r="1.9"/><circle cx="427.9" cy="134.3" r="1.9"/><circle cx="428.3" cy="135.8" r="1.9"/><circle cx="429.1" cy="136.3" r="1.9"/><circle cx="429.8" cy="135.1" r="1.9"/><circle cx="430.3" cy="135.5" r="1.9"/><circle cx="430.7" cy="136.7" r="1.9"/><circle cx="431.3" cy="135.4" r="1.9"/><circle cx="432.0" cy="135.4" r="1.9"/><circle cx="432.9" cy="136.2" r="1.9"/><circle cx="433.6" cy="136.3" r="1.9"/><circle cx="433.9" cy="136.7" r="1.9"/><circle cx="434.5" cy="135.9" r="1.9"/><circle cx="435.2" cy="136.2" r="1.9"/><circle cx="436.1" cy="135.9" r="1.9"/><circle cx="436.6" cy="136.3" r="1.9"/><circle cx="436.9" cy="135.8" r="1.9"/><circle cx="437.7" cy="136.7" r="1.9"/><circle cx="438.5" cy="136.8" r="1.9"/><circle cx="439.1" cy="136.3" r="1.9"/><circle cx="439.8" cy="136.1" r="1.9"/><circle cx="440.1" cy="136.6" r="1.9"/><circle cx="440.7" cy="136.5" r="1.9"/><circle cx="441.5" cy="136.6" r="1.9"/><circle cx="442.2" cy="136.6" r="1.9"/><circle cx="442.8" cy="136.1" r="1.9"/><circle cx="443.6" cy="136.5" r="1.9"/><circle cx="444.3" cy="135.4" r="1.9"/><circle cx="444.8" cy="137.1" r="1.9"/><circle cx="445.2" cy="136.7" r="1.9"/><circle cx="446.2" cy="136.9" r="1.9"/><circle cx="446.6" cy="136.9" r="1.9"/><circle cx="447.5" cy="136.1" r="1.9"/><circle cx="448.3" cy="136.6" r="1.9"/><circle cx="448.8" cy="136.3" r="1.9"/><circle cx="449.5" cy="136.6" r="1.9"/><circle cx="450.2" cy="136.7" r="1.9"/><circle cx="450.6" cy="136.2" r="1.9"/><circle cx="451.5" cy="136.1" r="1.9"/><circle cx="452.0" cy="136.4" r="1.9"/><circle cx="452.6" cy="134.6" r="1.9"/><circle cx="453.3" cy="135.9" r="1.9"/><circle cx="453.9" cy="135.1" r="1.9"/><circle cx="454.8" cy="135.3" r="1.9"/><circle cx="455.1" cy="134.8" r="1.9"/><circle cx="455.9" cy="134.7" r="1.9"/><circle cx="456.3" cy="136.6" r="1.9"/><circle cx="457.3" cy="136.2" r="1.9"/><circle cx="458.0" cy="136.1" r="1.9"/><circle cx="458.1" cy="136.6" r="1.9"/><circle cx="459.2" cy="136.3" r="1.9"/><circle cx="459.3" cy="136.9" r="1.9"/><circle cx="460.5" cy="136.0" r="1.9"/><circle cx="460.9" cy="136.7" r="1.9"/><circle cx="461.5" cy="136.7" r="1.9"/><circle cx="462.2" cy="136.4" r="1.9"/><circle cx="462.8" cy="135.0" r="1.9"/><circle cx="463.2" cy="137.6" r="1.9"/><circle cx="464.1" cy="136.5" r="1.9"/><circle cx="464.8" cy="136.6" r="1.9"/><circle cx="465.3" cy="135.2" r="1.9"/><circle cx="465.9" cy="134.3" r="1.9"/><circle cx="466.4" cy="135.8" r="1.9"/><circle cx="466.7" cy="135.3" r="1.9"/><circle cx="467.9" cy="136.1" r="1.9"/><circle cx="468.2" cy="135.1" r="1.9"/><circle cx="468.7" cy="135.0" r="1.9"/><circle cx="469.8" cy="136.9" r="1.9"/><circle cx="470.1" cy="136.6" r="1.9"/><circle cx="471.0" cy="135.7" r="1.9"/><circle cx="472.0" cy="134.6" r="1.9"/><circle cx="472.2" cy="136.3" r="1.9"/><circle cx="473.3" cy="137.3" r="1.9"/><circle cx="473.9" cy="136.3" r="1.9"/><circle cx="474.3" cy="137.1" r="1.9"/><circle cx="474.9" cy="136.6" r="1.9"/><circle cx="475.4" cy="136.2" r="1.9"/><circle cx="475.9" cy="137.6" r="1.9"/><circle cx="476.6" cy="135.4" r="1.9"/><circle cx="477.4" cy="136.7" r="1.9"/><circle cx="478.0" cy="137.9" r="1.9"/><circle cx="478.6" cy="136.7" r="1.9"/><circle cx="479.1" cy="137.0" r="1.9"/><circle cx="479.8" cy="137.2" r="1.9"/><circle cx="481.0" cy="137.4" r="1.9"/><circle cx="480.9" cy="138.4" r="1.9"/><circle cx="481.9" cy="137.9" r="1.9"/><circle cx="482.5" cy="137.9" r="1.9"/><circle cx="483.1" cy="138.4" r="1.9"/><circle cx="483.8" cy="138.4" r="1.9"/><circle cx="484.1" cy="137.7" r="1.9"/><circle cx="484.7" cy="138.3" r="1.9"/><circle cx="485.6" cy="137.5" r="1.9"/><circle cx="486.2" cy="139.4" r="1.9"/><circle cx="487.0" cy="137.3" r="1.9"/><circle cx="487.4" cy="138.4" r="1.9"/><circle cx="488.0" cy="138.3" r="1.9"/><circle cx="488.9" cy="138.3" r="1.9"/><circle cx="489.1" cy="138.6" r="1.9"/><circle cx="489.9" cy="138.3" r="1.9"/><circle cx="490.4" cy="137.5" r="1.9"/><circle cx="490.9" cy="138.1" r="1.9"/><circle cx="491.6" cy="136.8" r="1.9"/><circle cx="492.6" cy="137.8" r="1.9"/><circle cx="492.9" cy="138.8" r="1.9"/><circle cx="493.2" cy="139.3" r="1.9"/><circle cx="494.2" cy="138.9" r="1.9"/><circle cx="494.8" cy="138.7" r="1.9"/><circle cx="495.6" cy="138.5" r="1.9"/><circle cx="495.9" cy="137.6" r="1.9"/><circle cx="496.8" cy="139.3" r="1.9"/><circle cx="497.5" cy="138.5" r="1.9"/></g>
<polyline points="115.5,236.8 115.7,233.0 116.4,230.0 118.3,227.2 120.4,224.8" fill="none" stroke="#80279A" stroke-width="2.6" stroke-linecap="round" stroke-linejoin="round"/>
<g fill="#80279A"><circle cx="115.4" cy="237.0" r="1.9"/><circle cx="115.6" cy="236.4" r="1.9"/><circle cx="115.7" cy="234.9" r="1.9"/><circle cx="115.6" cy="234.8" r="1.9"/><circle cx="115.6" cy="233.9" r="1.9"/><circle cx="115.6" cy="233.2" r="1.9"/><circle cx="115.6" cy="234.0" r="1.9"/><circle cx="116.0" cy="232.4" r="1.9"/><circle cx="116.1" cy="231.4" r="1.9"/><circle cx="115.8" cy="230.5" r="1.9"/><circle cx="116.3" cy="231.2" r="1.9"/><circle cx="116.4" cy="229.6" r="1.9"/><circle cx="116.8" cy="229.1" r="1.9"/><circle cx="117.0" cy="228.8" r="1.9"/><circle cx="117.5" cy="228.0" r="1.9"/><circle cx="117.8" cy="227.4" r="1.9"/><circle cx="118.3" cy="227.7" r="1.9"/><circle cx="118.7" cy="227.6" r="1.9"/><circle cx="119.0" cy="226.3" r="1.9"/><circle cx="119.4" cy="225.7" r="1.9"/><circle cx="120.0" cy="225.5" r="1.9"/><circle cx="120.4" cy="224.8" r="1.9"/></g>
<polyline points="115.6,240.4 115.6,240.4" fill="none" stroke="#80279A" stroke-width="0.1" stroke-linecap="round" stroke-linejoin="round"/>
<g fill="#80279A"><circle cx="115.6" cy="240.4" r="1.9"/><circle cx="115.6" cy="240.4" r="1.9"/></g>
<polyline points="68.5,208.8 72.0,209.5 75.0,210.8 78.0,208.8 83.0,209.2 88.0,209.8 91.8,209.6 93.6,213.5 95.5,219.0 97.0,223.8" fill="none" stroke="#80279A" stroke-width="4.6" stroke-linecap="round" stroke-linejoin="round"/>
<g fill="#80279A"><circle cx="68.1" cy="208.6" r="2.0"/><circle cx="69.3" cy="208.3" r="2.0"/><circle cx="70.2" cy="210.7" r="2.0"/><circle cx="70.2" cy="209.6" r="2.0"/><circle cx="71.6" cy="207.5" r="2.0"/><circle cx="72.1" cy="209.3" r="2.0"/><circle cx="72.2" cy="211.0" r="2.0"/><circle cx="73.3" cy="209.6" r="2.0"/><circle cx="73.9" cy="210.9" r="2.0"/><circle cx="74.6" cy="211.1" r="2.0"/><circle cx="75.1" cy="209.7" r="2.0"/><circle cx="75.4" cy="210.6" r="2.0"/><circle cx="75.2" cy="212.2" r="2.0"/><circle cx="76.4" cy="208.8" r="2.0"/><circle cx="76.5" cy="209.7" r="2.0"/><circle cx="77.5" cy="208.6" r="2.0"/><circle cx="77.9" cy="207.9" r="2.0"/><circle cx="78.4" cy="208.8" r="2.0"/><circle cx="79.1" cy="209.6" r="2.0"/><circle cx="79.8" cy="209.1" r="2.0"/><circle cx="80.6" cy="210.2" r="2.0"/><circle cx="81.3" cy="209.3" r="2.0"/><circle cx="81.7" cy="208.3" r="2.0"/><circle cx="82.3" cy="209.8" r="2.0"/><circle cx="83.1" cy="208.8" r="2.0"/><circle cx="83.2" cy="207.8" r="2.0"/><circle cx="84.3" cy="210.4" r="2.0"/><circle cx="85.0" cy="208.1" r="2.0"/><circle cx="85.4" cy="209.7" r="2.0"/><circle cx="85.9" cy="209.9" r="2.0"/><circle cx="86.7" cy="208.8" r="2.0"/><circle cx="87.0" cy="210.5" r="2.0"/><circle cx="88.1" cy="208.9" r="2.0"/><circle cx="88.3" cy="210.6" r="2.0"/><circle cx="89.4" cy="209.4" r="2.0"/><circle cx="90.4" cy="209.4" r="2.0"/><circle cx="90.2" cy="210.7" r="2.0"/><circle cx="91.1" cy="210.0" r="2.0"/><circle cx="91.8" cy="208.6" r="2.0"/><circle cx="91.7" cy="210.0" r="2.0"/><circle cx="92.7" cy="209.7" r="2.0"/><circle cx="93.0" cy="211.5" r="2.0"/><circle cx="92.5" cy="212.1" r="2.0"/><circle cx="93.3" cy="211.5" r="2.0"/><circle cx="92.7" cy="213.3" r="2.0"/><circle cx="93.3" cy="213.9" r="2.0"/><circle cx="93.3" cy="214.0" r="2.0"/><circle cx="93.8" cy="213.3" r="2.0"/><circle cx="94.2" cy="215.5" r="2.0"/><circle cx="94.3" cy="214.8" r="2.0"/><circle cx="94.7" cy="214.9" r="2.0"/><circle cx="95.0" cy="217.6" r="2.0"/><circle cx="95.6" cy="218.6" r="2.0"/><circle cx="95.4" cy="218.6" r="2.0"/><circle cx="95.5" cy="217.7" r="2.0"/><circle cx="96.1" cy="220.1" r="2.0"/><circle cx="95.8" cy="219.1" r="2.0"/><circle cx="96.5" cy="221.3" r="2.0"/><circle cx="95.9" cy="222.1" r="2.0"/><circle cx="97.0" cy="222.0" r="2.0"/><circle cx="96.7" cy="222.2" r="2.0"/><circle cx="96.6" cy="224.2" r="2.0"/><circle cx="97.0" cy="223.8" r="2.0"/></g>
<polyline points="120.4,224.8 125.0,223.4 130.6,221.9 136.3,221.9 139.7,223.6 143.0,221.9 146.4,218.3 149.8,215.5 153.2,211.5 156.6,211.3 159.9,213.2 164.5,211.8 167.8,209.8 172.4,211.0 176.9,208.7 180.2,211.3 184.8,211.8 186.9,212.2 192.5,215.2 198.2,218.0 203.8,219.2 208.9,220.0 215.1,217.5 220.7,215.8 226.4,213.5 230.0,211.1 235.6,210.3 240.1,208.9 246.9,209.2 253.7,208.4 259.3,210.0 263.8,210.3 269.5,210.7 275.1,209.6 280.7,208.9 286.4,210.7 292.0,210.9 295.6,208.1 301.3,209.2 306.9,209.6 312.5,210.0 318.2,210.0 323.8,210.3 329.5,209.6 335.1,208.9 340.7,210.0 346.4,211.1 350.9,210.7 354.5,210.4 359.0,211.8 363.5,213.2 368.0,213.8 372.5,215.5 378.2,216.6 383.8,219.4 389.5,221.9 395.1,223.0 399.6,225.6 403.0,226.0 406.4,222.4 410.6,221.7 416.3,220.8 419.1,217.4 421.9,222.6 427.5,220.8 433.2,218.5 438.8,216.6 444.5,215.3 450.1,215.6 455.7,216.0 460.5,217.5 465.3,216.6 469.8,218.3 474.3,220.0 478.8,218.9 482.2,217.2 486.7,217.4 491.2,216.9 495.7,216.0 498.0,217.4" fill="none" stroke="#80279A" stroke-width="4.2" stroke-linecap="round" stroke-linejoin="round"/>
<g fill="#80279A"><circle cx="121.5" cy="224.9" r="2.05"/><circle cx="120.9" cy="225.5" r="2.05"/><circle cx="121.4" cy="225.3" r="2.05"/><circle cx="122.4" cy="223.1" r="2.05"/><circle cx="122.3" cy="224.0" r="2.05"/><circle cx="123.6" cy="224.2" r="2.05"/><circle cx="124.3" cy="222.1" r="2.05"/><circle cx="124.6" cy="222.8" r="2.05"/><circle cx="125.0" cy="223.8" r="2.05"/><circle cx="125.3" cy="223.0" r="2.05"/><circle cx="125.8" cy="223.4" r="2.05"/><circle cx="126.6" cy="222.3" r="2.05"/><circle cx="127.6" cy="222.0" r="2.05"/><circle cx="128.5" cy="221.8" r="2.05"/><circle cx="129.0" cy="222.7" r="2.05"/><circle cx="129.0" cy="222.0" r="2.05"/><circle cx="129.7" cy="221.6" r="2.05"/><circle cx="130.5" cy="224.0" r="2.05"/><circle cx="131.1" cy="223.7" r="2.05"/><circle cx="132.0" cy="220.4" r="2.05"/><circle cx="131.7" cy="222.7" r="2.05"/><circle cx="132.4" cy="222.7" r="2.05"/><circle cx="134.1" cy="222.4" r="2.05"/><circle cx="134.3" cy="221.6" r="2.05"/><circle cx="135.1" cy="221.5" r="2.05"/><circle cx="135.5" cy="221.5" r="2.05"/><circle cx="136.7" cy="221.2" r="2.05"/><circle cx="137.0" cy="220.8" r="2.05"/><circle cx="137.2" cy="220.9" r="2.05"/><circle cx="137.9" cy="223.5" r="2.05"/><circle cx="138.7" cy="222.5" r="2.05"/><circle cx="139.3" cy="222.9" r="2.05"/><circle cx="139.8" cy="223.9" r="2.05"/><circle cx="140.4" cy="220.4" r="2.05"/><circle cx="140.3" cy="223.9" r="2.05"/><circle cx="141.3" cy="225.4" r="2.05"/><circle cx="141.8" cy="221.8" r="2.05"/><circle cx="143.0" cy="222.8" r="2.05"/><circle cx="143.7" cy="222.5" r="2.05"/><circle cx="143.4" cy="222.3" r="2.05"/><circle cx="143.6" cy="220.5" r="2.05"/><circle cx="144.1" cy="220.3" r="2.05"/><circle cx="145.0" cy="219.5" r="2.05"/><circle cx="145.2" cy="219.1" r="2.05"/><circle cx="145.9" cy="216.0" r="2.05"/><circle cx="145.9" cy="218.9" r="2.05"/><circle cx="146.0" cy="219.5" r="2.05"/><circle cx="147.0" cy="219.4" r="2.05"/><circle cx="147.7" cy="218.2" r="2.05"/><circle cx="147.8" cy="215.8" r="2.05"/><circle cx="148.3" cy="216.2" r="2.05"/><circle cx="148.9" cy="215.8" r="2.05"/><circle cx="150.4" cy="214.0" r="2.05"/><circle cx="150.2" cy="215.0" r="2.05"/><circle cx="150.1" cy="216.1" r="2.05"/><circle cx="150.7" cy="213.1" r="2.05"/><circle cx="151.2" cy="213.8" r="2.05"/><circle cx="150.8" cy="213.7" r="2.05"/><circle cx="151.6" cy="212.1" r="2.05"/><circle cx="152.5" cy="212.8" r="2.05"/><circle cx="152.7" cy="214.5" r="2.05"/><circle cx="153.3" cy="210.8" r="2.05"/><circle cx="154.0" cy="211.3" r="2.05"/><circle cx="153.8" cy="209.6" r="2.05"/><circle cx="154.8" cy="213.8" r="2.05"/><circle cx="155.9" cy="211.0" r="2.05"/><circle cx="156.4" cy="212.4" r="2.05"/><circle cx="157.2" cy="213.6" r="2.05"/><circle cx="158.0" cy="213.8" r="2.05"/><circle cx="158.2" cy="212.7" r="2.05"/><circle cx="158.6" cy="212.4" r="2.05"/><circle cx="158.7" cy="212.2" r="2.05"/><circle cx="159.6" cy="212.4" r="2.05"/><circle cx="160.9" cy="213.3" r="2.05"/><circle cx="161.5" cy="213.8" r="2.05"/><circle cx="161.9" cy="213.8" r="2.05"/><circle cx="162.0" cy="213.4" r="2.05"/><circle cx="162.7" cy="211.7" r="2.05"/><circle cx="163.8" cy="214.7" r="2.05"/><circle cx="163.6" cy="214.0" r="2.05"/><circle cx="164.8" cy="210.8" r="2.05"/><circle cx="165.1" cy="211.9" r="2.05"/><circle cx="165.7" cy="210.7" r="2.05"/><circle cx="165.7" cy="210.8" r="2.05"/><circle cx="167.0" cy="211.4" r="2.05"/><circle cx="167.5" cy="211.4" r="2.05"/><circle cx="167.5" cy="209.8" r="2.05"/><circle cx="168.6" cy="211.1" r="2.05"/><circle cx="169.2" cy="210.7" r="2.05"/><circle cx="169.8" cy="212.7" r="2.05"/><circle cx="169.7" cy="210.5" r="2.05"/><circle cx="171.9" cy="210.9" r="2.05"/><circle cx="171.1" cy="211.0" r="2.05"/><circle cx="171.9" cy="210.2" r="2.05"/><circle cx="173.0" cy="212.7" r="2.05"/><circle cx="173.7" cy="211.2" r="2.05"/><circle cx="174.4" cy="210.4" r="2.05"/><circle cx="174.4" cy="209.7" r="2.05"/><circle cx="175.3" cy="209.2" r="2.05"/><circle cx="175.5" cy="208.9" r="2.05"/><circle cx="175.8" cy="207.8" r="2.05"/><circle cx="176.9" cy="208.3" r="2.05"/><circle cx="177.4" cy="210.7" r="2.05"/><circle cx="177.9" cy="209.4" r="2.05"/><circle cx="177.9" cy="208.6" r="2.05"/><circle cx="178.9" cy="209.2" r="2.05"/><circle cx="179.4" cy="209.3" r="2.05"/><circle cx="179.8" cy="210.8" r="2.05"/><circle cx="180.5" cy="210.8" r="2.05"/><circle cx="180.7" cy="211.7" r="2.05"/><circle cx="181.5" cy="213.4" r="2.05"/><circle cx="182.1" cy="210.9" r="2.05"/><circle cx="182.7" cy="212.1" r="2.05"/><circle cx="183.6" cy="212.5" r="2.05"/><circle cx="183.7" cy="214.6" r="2.05"/><circle cx="185.4" cy="211.8" r="2.05"/><circle cx="185.1" cy="212.1" r="2.05"/><circle cx="186.3" cy="209.5" r="2.05"/><circle cx="186.9" cy="210.5" r="2.05"/><circle cx="187.6" cy="214.1" r="2.05"/><circle cx="188.4" cy="211.1" r="2.05"/><circle cx="189.1" cy="214.1" r="2.05"/><circle cx="189.0" cy="214.0" r="2.05"/><circle cx="190.2" cy="213.3" r="2.05"/><circle cx="190.3" cy="213.4" r="2.05"/><circle cx="191.2" cy="211.8" r="2.05"/><circle cx="191.9" cy="213.5" r="2.05"/><circle cx="192.3" cy="213.0" r="2.05"/><circle cx="192.2" cy="214.5" r="2.05"/><circle cx="193.4" cy="213.6" r="2.05"/><circle cx="193.8" cy="215.0" r="2.05"/><circle cx="194.6" cy="215.7" r="2.05"/><circle cx="194.9" cy="216.1" r="2.05"/><circle cx="196.0" cy="216.2" r="2.05"/><circle cx="195.9" cy="219.2" r="2.05"/><circle cx="196.5" cy="218.0" r="2.05"/><circle cx="196.8" cy="217.7" r="2.05"/><circle cx="196.8" cy="217.8" r="2.05"/><circle cx="198.0" cy="216.3" r="2.05"/><circle cx="198.3" cy="219.5" r="2.05"/><circle cx="199.6" cy="216.5" r="2.05"/><circle cx="200.7" cy="217.6" r="2.05"/><circle cx="200.6" cy="218.8" r="2.05"/><circle cx="200.9" cy="216.8" r="2.05"/><circle cx="201.7" cy="220.2" r="2.05"/><circle cx="202.9" cy="217.1" r="2.05"/><circle cx="203.6" cy="219.1" r="2.05"/><circle cx="204.0" cy="219.3" r="2.05"/><circle cx="204.6" cy="218.1" r="2.05"/><circle cx="204.8" cy="218.6" r="2.05"/><circle cx="205.6" cy="220.2" r="2.05"/><circle cx="205.9" cy="221.4" r="2.05"/><circle cx="206.8" cy="219.0" r="2.05"/><circle cx="207.9" cy="220.3" r="2.05"/><circle cx="208.1" cy="218.7" r="2.05"/><circle cx="208.6" cy="218.2" r="2.05"/><circle cx="209.9" cy="221.0" r="2.05"/><circle cx="210.7" cy="220.1" r="2.05"/><circle cx="210.7" cy="220.2" r="2.05"/><circle cx="211.5" cy="218.8" r="2.05"/><circle cx="211.8" cy="221.4" r="2.05"/><circle cx="211.7" cy="217.0" r="2.05"/><circle cx="212.5" cy="219.3" r="2.05"/><circle cx="213.8" cy="217.8" r="2.05"/><circle cx="214.2" cy="217.9" r="2.05"/><circle cx="214.6" cy="217.1" r="2.05"/><circle cx="215.1" cy="217.5" r="2.05"/><circle cx="216.1" cy="219.9" r="2.05"/><circle cx="215.7" cy="217.7" r="2.05"/><circle cx="217.0" cy="218.1" r="2.05"/><circle cx="218.0" cy="217.6" r="2.05"/><circle cx="218.5" cy="215.5" r="2.05"/><circle cx="218.2" cy="218.3" r="2.05"/><circle cx="219.9" cy="215.1" r="2.05"/><circle cx="220.5" cy="216.8" r="2.05"/><circle cx="219.8" cy="216.8" r="2.05"/><circle cx="220.9" cy="216.9" r="2.05"/><circle cx="221.6" cy="214.5" r="2.05"/><circle cx="221.9" cy="214.9" r="2.05"/><circle cx="223.3" cy="214.1" r="2.05"/><circle cx="222.9" cy="217.1" r="2.05"/><circle cx="224.8" cy="215.2" r="2.05"/><circle cx="224.5" cy="212.8" r="2.05"/><circle cx="224.7" cy="214.6" r="2.05"/><circle cx="226.3" cy="212.5" r="2.05"/><circle cx="226.4" cy="213.2" r="2.05"/><circle cx="226.8" cy="213.7" r="2.05"/><circle cx="228.2" cy="212.1" r="2.05"/><circle cx="228.2" cy="213.7" r="2.05"/><circle cx="228.4" cy="212.0" r="2.05"/><circle cx="228.5" cy="213.0" r="2.05"/><circle cx="229.3" cy="210.7" r="2.05"/><circle cx="230.0" cy="210.1" r="2.05"/><circle cx="230.3" cy="210.7" r="2.05"/><circle cx="231.8" cy="210.7" r="2.05"/><circle cx="232.0" cy="209.1" r="2.05"/><circle cx="231.8" cy="212.8" r="2.05"/><circle cx="233.0" cy="208.9" r="2.05"/><circle cx="233.7" cy="211.3" r="2.05"/><circle cx="233.8" cy="209.5" r="2.05"/><circle cx="235.1" cy="209.3" r="2.05"/><circle cx="235.9" cy="211.4" r="2.05"/><circle cx="236.4" cy="209.6" r="2.05"/><circle cx="236.9" cy="209.2" r="2.05"/><circle cx="237.5" cy="210.1" r="2.05"/><circle cx="238.1" cy="210.6" r="2.05"/><circle cx="239.7" cy="208.7" r="2.05"/><circle cx="239.6" cy="210.1" r="2.05"/><circle cx="240.3" cy="208.6" r="2.05"/><circle cx="240.6" cy="210.1" r="2.05"/><circle cx="241.6" cy="209.5" r="2.05"/><circle cx="241.7" cy="209.7" r="2.05"/><circle cx="242.8" cy="208.8" r="2.05"/><circle cx="243.4" cy="211.6" r="2.05"/><circle cx="243.2" cy="209.8" r="2.05"/><circle cx="244.0" cy="207.5" r="2.05"/><circle cx="245.0" cy="209.8" r="2.05"/><circle cx="245.7" cy="207.8" r="2.05"/><circle cx="245.8" cy="208.5" r="2.05"/><circle cx="246.9" cy="208.2" r="2.05"/><circle cx="247.0" cy="211.2" r="2.05"/><circle cx="247.8" cy="208.9" r="2.05"/><circle cx="248.6" cy="208.3" r="2.05"/><circle cx="249.4" cy="208.6" r="2.05"/><circle cx="250.2" cy="207.5" r="2.05"/><circle cx="250.1" cy="211.0" r="2.05"/><circle cx="251.2" cy="209.6" r="2.05"/><circle cx="252.3" cy="209.3" r="2.05"/><circle cx="252.5" cy="206.7" r="2.05"/><circle cx="252.5" cy="209.6" r="2.05"/><circle cx="253.9" cy="209.1" r="2.05"/><circle cx="253.7" cy="206.1" r="2.05"/><circle cx="254.6" cy="207.4" r="2.05"/><circle cx="255.6" cy="207.7" r="2.05"/><circle cx="256.7" cy="208.4" r="2.05"/><circle cx="256.6" cy="210.3" r="2.05"/><circle cx="257.5" cy="208.4" r="2.05"/><circle cx="258.3" cy="211.9" r="2.05"/><circle cx="258.2" cy="209.5" r="2.05"/><circle cx="258.9" cy="207.7" r="2.05"/><circle cx="260.2" cy="210.9" r="2.05"/><circle cx="260.9" cy="210.6" r="2.05"/><circle cx="260.5" cy="210.1" r="2.05"/><circle cx="261.6" cy="208.8" r="2.05"/><circle cx="262.1" cy="211.1" r="2.05"/><circle cx="263.1" cy="212.5" r="2.05"/><circle cx="264.0" cy="208.1" r="2.05"/><circle cx="264.7" cy="211.8" r="2.05"/><circle cx="265.1" cy="209.0" r="2.05"/><circle cx="266.3" cy="208.9" r="2.05"/><circle cx="266.3" cy="208.3" r="2.05"/><circle cx="266.5" cy="208.5" r="2.05"/><circle cx="268.0" cy="211.9" r="2.05"/><circle cx="268.1" cy="209.0" r="2.05"/><circle cx="268.8" cy="211.1" r="2.05"/><circle cx="269.0" cy="209.3" r="2.05"/><circle cx="270.1" cy="211.4" r="2.05"/><circle cx="270.8" cy="211.0" r="2.05"/><circle cx="270.9" cy="207.4" r="2.05"/><circle cx="272.1" cy="209.1" r="2.05"/><circle cx="272.6" cy="209.6" r="2.05"/><circle cx="273.4" cy="209.1" r="2.05"/><circle cx="274.4" cy="209.9" r="2.05"/><circle cx="274.7" cy="210.5" r="2.05"/><circle cx="275.5" cy="210.1" r="2.05"/><circle cx="275.1" cy="208.8" r="2.05"/><circle cx="277.0" cy="210.0" r="2.05"/><circle cx="277.2" cy="209.9" r="2.05"/><circle cx="277.4" cy="208.5" r="2.05"/><circle cx="278.0" cy="210.6" r="2.05"/><circle cx="279.0" cy="211.2" r="2.05"/><circle cx="279.6" cy="211.3" r="2.05"/><circle cx="280.2" cy="207.6" r="2.05"/><circle cx="281.3" cy="209.3" r="2.05"/><circle cx="281.8" cy="209.4" r="2.05"/><circle cx="281.9" cy="209.5" r="2.05"/><circle cx="282.2" cy="208.1" r="2.05"/><circle cx="282.9" cy="209.1" r="2.05"/><circle cx="283.4" cy="209.8" r="2.05"/><circle cx="284.6" cy="212.5" r="2.05"/><circle cx="285.8" cy="210.2" r="2.05"/><circle cx="286.1" cy="210.2" r="2.05"/><circle cx="286.5" cy="210.7" r="2.05"/><circle cx="286.8" cy="210.8" r="2.05"/><circle cx="287.1" cy="211.3" r="2.05"/><circle cx="288.2" cy="209.5" r="2.05"/><circle cx="288.8" cy="211.4" r="2.05"/><circle cx="289.3" cy="211.4" r="2.05"/><circle cx="290.3" cy="212.7" r="2.05"/><circle cx="290.4" cy="210.7" r="2.05"/><circle cx="291.6" cy="212.6" r="2.05"/><circle cx="292.1" cy="211.8" r="2.05"/><circle cx="292.0" cy="209.8" r="2.05"/><circle cx="293.6" cy="209.8" r="2.05"/><circle cx="294.3" cy="208.8" r="2.05"/><circle cx="294.0" cy="207.4" r="2.05"/><circle cx="294.8" cy="209.2" r="2.05"/><circle cx="295.8" cy="208.7" r="2.05"/><circle cx="295.5" cy="206.4" r="2.05"/><circle cx="296.2" cy="209.3" r="2.05"/><circle cx="297.1" cy="209.8" r="2.05"/><circle cx="297.8" cy="208.4" r="2.05"/><circle cx="298.3" cy="208.8" r="2.05"/><circle cx="298.3" cy="210.7" r="2.05"/><circle cx="299.5" cy="207.6" r="2.05"/><circle cx="300.2" cy="209.3" r="2.05"/><circle cx="301.0" cy="210.8" r="2.05"/><circle cx="300.2" cy="209.9" r="2.05"/><circle cx="302.5" cy="208.1" r="2.05"/><circle cx="301.9" cy="209.6" r="2.05"/><circle cx="303.3" cy="209.7" r="2.05"/><circle cx="303.4" cy="208.8" r="2.05"/><circle cx="304.5" cy="210.3" r="2.05"/><circle cx="305.8" cy="209.8" r="2.05"/><circle cx="305.4" cy="206.7" r="2.05"/><circle cx="306.7" cy="209.4" r="2.05"/><circle cx="306.9" cy="208.4" r="2.05"/><circle cx="307.8" cy="207.5" r="2.05"/><circle cx="308.2" cy="209.8" r="2.05"/><circle cx="308.9" cy="211.3" r="2.05"/><circle cx="309.4" cy="209.9" r="2.05"/><circle cx="310.3" cy="208.0" r="2.05"/><circle cx="310.5" cy="209.9" r="2.05"/><circle cx="311.6" cy="209.0" r="2.05"/><circle cx="312.2" cy="210.4" r="2.05"/><circle cx="312.0" cy="208.2" r="2.05"/><circle cx="312.6" cy="210.2" r="2.05"/><circle cx="313.8" cy="210.9" r="2.05"/><circle cx="314.7" cy="209.3" r="2.05"/><circle cx="315.4" cy="211.0" r="2.05"/><circle cx="315.8" cy="210.6" r="2.05"/><circle cx="315.8" cy="210.4" r="2.05"/><circle cx="316.6" cy="208.6" r="2.05"/><circle cx="317.4" cy="210.2" r="2.05"/><circle cx="318.2" cy="209.6" r="2.05"/><circle cx="318.5" cy="210.3" r="2.05"/><circle cx="319.2" cy="208.4" r="2.05"/><circle cx="320.1" cy="211.8" r="2.05"/><circle cx="320.5" cy="208.9" r="2.05"/><circle cx="321.8" cy="212.2" r="2.05"/><circle cx="321.8" cy="209.9" r="2.05"/><circle cx="322.6" cy="213.8" r="2.05"/><circle cx="323.2" cy="211.5" r="2.05"/><circle cx="324.0" cy="208.1" r="2.05"/><circle cx="324.0" cy="208.8" r="2.05"/><circle cx="325.2" cy="210.3" r="2.05"/><circle cx="326.3" cy="209.7" r="2.05"/><circle cx="326.4" cy="210.1" r="2.05"/><circle cx="327.0" cy="212.7" r="2.05"/><circle cx="327.7" cy="211.6" r="2.05"/><circle cx="328.7" cy="209.0" r="2.05"/><circle cx="329.1" cy="209.2" r="2.05"/><circle cx="329.5" cy="209.8" r="2.05"/><circle cx="330.1" cy="209.0" r="2.05"/><circle cx="331.3" cy="209.1" r="2.05"/><circle cx="331.6" cy="211.4" r="2.05"/><circle cx="332.2" cy="210.5" r="2.05"/><circle cx="333.1" cy="210.5" r="2.05"/><circle cx="333.9" cy="207.4" r="2.05"/><circle cx="334.6" cy="209.1" r="2.05"/><circle cx="333.9" cy="208.2" r="2.05"/><circle cx="334.6" cy="208.9" r="2.05"/><circle cx="335.2" cy="207.8" r="2.05"/><circle cx="336.5" cy="209.3" r="2.05"/><circle cx="336.7" cy="209.0" r="2.05"/><circle cx="337.6" cy="209.5" r="2.05"/><circle cx="338.2" cy="209.2" r="2.05"/><circle cx="339.1" cy="207.7" r="2.05"/><circle cx="339.3" cy="209.9" r="2.05"/><circle cx="339.9" cy="209.2" r="2.05"/><circle cx="340.5" cy="210.3" r="2.05"/><circle cx="341.8" cy="209.9" r="2.05"/><circle cx="341.9" cy="210.7" r="2.05"/><circle cx="342.5" cy="208.0" r="2.05"/><circle cx="343.3" cy="210.0" r="2.05"/><circle cx="343.7" cy="211.4" r="2.05"/><circle cx="344.5" cy="210.1" r="2.05"/><circle cx="344.4" cy="208.8" r="2.05"/><circle cx="345.8" cy="210.8" r="2.05"/><circle cx="346.6" cy="211.4" r="2.05"/><circle cx="346.9" cy="209.5" r="2.05"/><circle cx="347.3" cy="210.8" r="2.05"/><circle cx="347.9" cy="211.8" r="2.05"/><circle cx="348.5" cy="208.7" r="2.05"/><circle cx="349.5" cy="208.7" r="2.05"/><circle cx="350.8" cy="209.6" r="2.05"/><circle cx="350.9" cy="210.4" r="2.05"/><circle cx="351.2" cy="208.5" r="2.05"/><circle cx="351.4" cy="211.6" r="2.05"/><circle cx="353.1" cy="213.1" r="2.05"/><circle cx="352.8" cy="211.2" r="2.05"/><circle cx="353.9" cy="211.5" r="2.05"/><circle cx="354.3" cy="211.3" r="2.05"/><circle cx="355.5" cy="211.3" r="2.05"/><circle cx="356.3" cy="210.6" r="2.05"/><circle cx="357.0" cy="210.2" r="2.05"/><circle cx="357.7" cy="207.9" r="2.05"/><circle cx="357.7" cy="210.4" r="2.05"/><circle cx="358.4" cy="212.8" r="2.05"/><circle cx="359.3" cy="211.9" r="2.05"/><circle cx="360.3" cy="210.2" r="2.05"/><circle cx="360.0" cy="214.0" r="2.05"/><circle cx="361.0" cy="209.9" r="2.05"/><circle cx="361.7" cy="211.2" r="2.05"/><circle cx="362.7" cy="214.2" r="2.05"/><circle cx="362.7" cy="214.6" r="2.05"/><circle cx="363.2" cy="214.3" r="2.05"/><circle cx="364.4" cy="213.1" r="2.05"/><circle cx="364.3" cy="213.0" r="2.05"/><circle cx="364.6" cy="212.8" r="2.05"/><circle cx="365.4" cy="215.0" r="2.05"/><circle cx="366.4" cy="210.7" r="2.05"/><circle cx="367.6" cy="214.2" r="2.05"/><circle cx="367.8" cy="216.3" r="2.05"/><circle cx="368.8" cy="214.1" r="2.05"/><circle cx="368.9" cy="210.7" r="2.05"/><circle cx="369.9" cy="215.6" r="2.05"/><circle cx="370.0" cy="213.0" r="2.05"/><circle cx="370.8" cy="212.9" r="2.05"/><circle cx="371.4" cy="216.0" r="2.05"/><circle cx="372.5" cy="215.6" r="2.05"/><circle cx="372.6" cy="216.4" r="2.05"/><circle cx="373.6" cy="215.2" r="2.05"/><circle cx="373.3" cy="214.8" r="2.05"/><circle cx="373.9" cy="214.8" r="2.05"/><circle cx="375.0" cy="216.4" r="2.05"/><circle cx="375.7" cy="216.2" r="2.05"/><circle cx="376.2" cy="216.7" r="2.05"/><circle cx="377.3" cy="217.3" r="2.05"/><circle cx="378.1" cy="216.1" r="2.05"/><circle cx="378.1" cy="218.6" r="2.05"/><circle cx="378.8" cy="217.4" r="2.05"/><circle cx="379.2" cy="218.3" r="2.05"/><circle cx="379.7" cy="216.2" r="2.05"/><circle cx="380.4" cy="217.2" r="2.05"/><circle cx="381.3" cy="217.5" r="2.05"/><circle cx="381.6" cy="218.0" r="2.05"/><circle cx="382.2" cy="217.8" r="2.05"/><circle cx="383.1" cy="217.1" r="2.05"/><circle cx="383.1" cy="218.3" r="2.05"/><circle cx="384.0" cy="219.4" r="2.05"/><circle cx="384.5" cy="219.3" r="2.05"/><circle cx="384.7" cy="218.6" r="2.05"/><circle cx="385.4" cy="219.5" r="2.05"/><circle cx="386.2" cy="220.8" r="2.05"/><circle cx="387.0" cy="220.5" r="2.05"/><circle cx="387.0" cy="219.6" r="2.05"/><circle cx="387.8" cy="221.6" r="2.05"/><circle cx="389.1" cy="221.6" r="2.05"/><circle cx="389.6" cy="223.9" r="2.05"/><circle cx="389.1" cy="223.4" r="2.05"/><circle cx="390.5" cy="223.6" r="2.05"/><circle cx="390.7" cy="223.3" r="2.05"/><circle cx="391.2" cy="222.2" r="2.05"/><circle cx="392.0" cy="224.5" r="2.05"/><circle cx="392.5" cy="223.7" r="2.05"/><circle cx="393.3" cy="221.8" r="2.05"/><circle cx="393.9" cy="223.5" r="2.05"/><circle cx="394.2" cy="223.6" r="2.05"/><circle cx="394.8" cy="221.9" r="2.05"/><circle cx="395.7" cy="223.0" r="2.05"/><circle cx="395.9" cy="221.7" r="2.05"/><circle cx="396.8" cy="224.3" r="2.05"/><circle cx="397.2" cy="224.5" r="2.05"/><circle cx="397.4" cy="225.1" r="2.05"/><circle cx="398.6" cy="225.3" r="2.05"/><circle cx="398.8" cy="225.4" r="2.05"/><circle cx="399.6" cy="226.9" r="2.05"/><circle cx="400.4" cy="226.0" r="2.05"/><circle cx="400.7" cy="226.8" r="2.05"/><circle cx="402.1" cy="225.2" r="2.05"/><circle cx="402.5" cy="226.3" r="2.05"/><circle cx="403.0" cy="224.5" r="2.05"/><circle cx="404.1" cy="223.3" r="2.05"/><circle cx="404.0" cy="224.6" r="2.05"/><circle cx="404.7" cy="224.1" r="2.05"/><circle cx="404.7" cy="224.9" r="2.05"/><circle cx="405.3" cy="223.1" r="2.05"/><circle cx="405.8" cy="223.8" r="2.05"/><circle cx="406.3" cy="222.2" r="2.05"/><circle cx="406.4" cy="221.9" r="2.05"/><circle cx="406.7" cy="222.6" r="2.05"/><circle cx="407.7" cy="223.9" r="2.05"/><circle cx="408.1" cy="222.6" r="2.05"/><circle cx="409.2" cy="221.9" r="2.05"/><circle cx="409.4" cy="222.1" r="2.05"/><circle cx="409.8" cy="220.6" r="2.05"/><circle cx="411.0" cy="221.9" r="2.05"/><circle cx="411.2" cy="220.1" r="2.05"/><circle cx="411.9" cy="222.9" r="2.05"/><circle cx="412.1" cy="220.3" r="2.05"/><circle cx="413.5" cy="223.0" r="2.05"/><circle cx="414.3" cy="220.5" r="2.05"/><circle cx="414.6" cy="220.2" r="2.05"/><circle cx="415.2" cy="220.6" r="2.05"/><circle cx="415.7" cy="222.5" r="2.05"/><circle cx="416.4" cy="220.5" r="2.05"/><circle cx="416.7" cy="220.6" r="2.05"/><circle cx="416.9" cy="220.1" r="2.05"/><circle cx="417.7" cy="221.2" r="2.05"/><circle cx="417.2" cy="217.4" r="2.05"/><circle cx="417.9" cy="219.4" r="2.05"/><circle cx="419.6" cy="218.1" r="2.05"/><circle cx="419.1" cy="218.8" r="2.05"/><circle cx="418.5" cy="217.8" r="2.05"/><circle cx="418.6" cy="218.7" r="2.05"/><circle cx="419.9" cy="218.6" r="2.05"/><circle cx="420.5" cy="219.0" r="2.05"/><circle cx="421.1" cy="220.3" r="2.05"/><circle cx="421.1" cy="223.9" r="2.05"/><circle cx="421.1" cy="222.5" r="2.05"/><circle cx="421.3" cy="223.5" r="2.05"/><circle cx="422.2" cy="222.8" r="2.05"/><circle cx="422.9" cy="224.3" r="2.05"/><circle cx="423.6" cy="222.2" r="2.05"/><circle cx="423.7" cy="223.3" r="2.05"/><circle cx="423.9" cy="221.1" r="2.05"/><circle cx="425.2" cy="222.3" r="2.05"/><circle cx="426.3" cy="223.5" r="2.05"/><circle cx="426.4" cy="221.7" r="2.05"/><circle cx="426.4" cy="220.8" r="2.05"/><circle cx="427.6" cy="220.5" r="2.05"/><circle cx="428.1" cy="221.3" r="2.05"/><circle cx="428.3" cy="219.7" r="2.05"/><circle cx="428.6" cy="221.5" r="2.05"/><circle cx="429.4" cy="217.9" r="2.05"/><circle cx="430.6" cy="219.4" r="2.05"/><circle cx="431.3" cy="219.0" r="2.05"/><circle cx="432.2" cy="220.0" r="2.05"/><circle cx="432.1" cy="219.1" r="2.05"/><circle cx="432.6" cy="219.7" r="2.05"/><circle cx="433.9" cy="218.0" r="2.05"/><circle cx="433.4" cy="219.0" r="2.05"/><circle cx="434.8" cy="216.3" r="2.05"/><circle cx="434.8" cy="216.7" r="2.05"/><circle cx="435.9" cy="218.3" r="2.05"/><circle cx="436.1" cy="216.1" r="2.05"/><circle cx="437.2" cy="214.8" r="2.05"/><circle cx="437.8" cy="216.8" r="2.05"/><circle cx="438.9" cy="218.0" r="2.05"/><circle cx="438.6" cy="216.3" r="2.05"/><circle cx="439.3" cy="215.6" r="2.05"/><circle cx="440.1" cy="217.5" r="2.05"/><circle cx="440.2" cy="215.9" r="2.05"/><circle cx="441.9" cy="216.9" r="2.05"/><circle cx="441.7" cy="214.9" r="2.05"/><circle cx="442.3" cy="213.8" r="2.05"/><circle cx="443.6" cy="215.7" r="2.05"/><circle cx="443.6" cy="213.7" r="2.05"/><circle cx="444.4" cy="214.7" r="2.05"/><circle cx="445.7" cy="214.8" r="2.05"/><circle cx="445.8" cy="216.6" r="2.05"/><circle cx="446.6" cy="215.2" r="2.05"/><circle cx="446.2" cy="217.1" r="2.05"/><circle cx="447.8" cy="215.0" r="2.05"/><circle cx="448.2" cy="214.4" r="2.05"/><circle cx="448.5" cy="213.8" r="2.05"/><circle cx="449.7" cy="216.2" r="2.05"/><circle cx="450.2" cy="216.5" r="2.05"/><circle cx="450.9" cy="215.8" r="2.05"/><circle cx="451.0" cy="216.4" r="2.05"/><circle cx="452.4" cy="216.5" r="2.05"/><circle cx="453.0" cy="215.2" r="2.05"/><circle cx="452.9" cy="217.3" r="2.05"/><circle cx="453.6" cy="216.2" r="2.05"/><circle cx="454.4" cy="215.9" r="2.05"/><circle cx="455.0" cy="215.3" r="2.05"/><circle cx="455.1" cy="218.2" r="2.05"/><circle cx="456.4" cy="213.9" r="2.05"/><circle cx="456.6" cy="215.0" r="2.05"/><circle cx="457.2" cy="213.6" r="2.05"/><circle cx="458.3" cy="218.7" r="2.05"/><circle cx="458.6" cy="217.8" r="2.05"/><circle cx="459.5" cy="215.7" r="2.05"/><circle cx="460.3" cy="215.3" r="2.05"/><circle cx="460.3" cy="217.1" r="2.05"/><circle cx="461.5" cy="217.5" r="2.05"/><circle cx="461.7" cy="216.3" r="2.05"/><circle cx="462.3" cy="217.2" r="2.05"/><circle cx="463.2" cy="218.7" r="2.05"/><circle cx="463.8" cy="217.0" r="2.05"/><circle cx="464.0" cy="218.7" r="2.05"/><circle cx="464.8" cy="216.7" r="2.05"/><circle cx="465.9" cy="218.4" r="2.05"/><circle cx="466.1" cy="216.7" r="2.05"/><circle cx="466.2" cy="218.3" r="2.05"/><circle cx="466.8" cy="218.4" r="2.05"/><circle cx="467.3" cy="217.6" r="2.05"/><circle cx="468.3" cy="217.8" r="2.05"/><circle cx="468.8" cy="218.3" r="2.05"/><circle cx="468.8" cy="216.8" r="2.05"/><circle cx="469.7" cy="220.4" r="2.05"/><circle cx="470.3" cy="217.4" r="2.05"/><circle cx="470.7" cy="218.8" r="2.05"/><circle cx="471.9" cy="218.3" r="2.05"/><circle cx="472.2" cy="219.4" r="2.05"/><circle cx="472.5" cy="218.3" r="2.05"/><circle cx="473.1" cy="218.7" r="2.05"/><circle cx="473.9" cy="217.7" r="2.05"/><circle cx="474.7" cy="220.9" r="2.05"/><circle cx="475.1" cy="221.6" r="2.05"/><circle cx="475.8" cy="217.7" r="2.05"/><circle cx="476.2" cy="220.1" r="2.05"/><circle cx="476.6" cy="218.0" r="2.05"/><circle cx="477.7" cy="219.8" r="2.05"/><circle cx="478.0" cy="218.8" r="2.05"/><circle cx="478.6" cy="218.2" r="2.05"/><circle cx="479.3" cy="219.9" r="2.05"/><circle cx="479.4" cy="217.9" r="2.05"/><circle cx="481.1" cy="218.4" r="2.05"/><circle cx="481.1" cy="218.7" r="2.05"/><circle cx="481.3" cy="216.1" r="2.05"/><circle cx="481.6" cy="215.5" r="2.05"/><circle cx="482.9" cy="218.2" r="2.05"/><circle cx="483.3" cy="216.5" r="2.05"/><circle cx="484.3" cy="218.0" r="2.05"/><circle cx="484.9" cy="215.1" r="2.05"/><circle cx="485.2" cy="214.4" r="2.05"/><circle cx="486.1" cy="216.4" r="2.05"/><circle cx="486.5" cy="219.2" r="2.05"/><circle cx="487.8" cy="217.9" r="2.05"/><circle cx="488.1" cy="217.5" r="2.05"/><circle cx="488.4" cy="217.1" r="2.05"/><circle cx="489.9" cy="216.1" r="2.05"/><circle cx="489.7" cy="217.2" r="2.05"/><circle cx="490.9" cy="217.9" r="2.05"/><circle cx="490.9" cy="216.7" r="2.05"/><circle cx="491.8" cy="215.3" r="2.05"/><circle cx="492.5" cy="216.1" r="2.05"/><circle cx="493.5" cy="217.0" r="2.05"/><circle cx="493.5" cy="216.5" r="2.05"/><circle cx="494.3" cy="215.5" r="2.05"/><circle cx="494.9" cy="217.4" r="2.05"/><circle cx="495.6" cy="214.0" r="2.05"/><circle cx="496.0" cy="217.3" r="2.05"/><circle cx="497.6" cy="215.5" r="2.05"/><circle cx="497.3" cy="216.7" r="2.05"/><circle cx="498.0" cy="217.4" r="2.05"/></g>
</g>
<line x1="55.5" y1="53.6" x2="501.7" y2="53.6" stroke="#7a7a7a" stroke-width="1"/>
<line x1="55.5" y1="134.4" x2="501.7" y2="134.4" stroke="#7a7a7a" stroke-width="1"/>
<line x1="55.5" y1="213.4" x2="501.7" y2="213.4" stroke="#7a7a7a" stroke-width="1"/>
<rect x="55.5" y="23.9" width="446.2" height="59.50000000000001" fill="none" stroke="#a6a6a6" stroke-width="1"/>
<path d="M55.5,23.9h4.5M501.7,23.9h-4.5M55.5,38.775h4.5M501.7,38.775h-4.5M55.5,53.650000000000006h4.5M501.7,53.650000000000006h-4.5M55.5,68.525h4.5M501.7,68.525h-4.5M55.5,83.4h4.5M501.7,83.4h-4.5M127.2,83.4v-4.5M127.2,23.9v4.5M206.9,83.4v-4.5M206.9,23.9v4.5M286.6,83.4v-4.5M286.6,23.9v4.5M366.4,83.4v-4.5M366.4,23.9v4.5M446.1,83.4v-4.5M446.1,23.9v4.5" stroke="#a6a6a6" stroke-width="1" fill="none"/>
<text x="51.3" y="28.9" font-size="13.4" text-anchor="end">0.5</text>
<text x="51.3" y="43.8" font-size="13.4" text-anchor="end">0.25</text>
<text x="51.3" y="58.7" font-size="13.4" text-anchor="end">0</text>
<text x="51.3" y="73.5" font-size="13.4" text-anchor="end">-0.25</text>
<text x="51.3" y="88.4" font-size="13.4" text-anchor="end">-0.5</text>
<rect x="55.5" y="104.4" width="446.2" height="60.0" fill="none" stroke="#a6a6a6" stroke-width="1"/>
<path d="M55.5,104.4h4.5M501.7,104.4h-4.5M55.5,119.4h4.5M501.7,119.4h-4.5M55.5,134.4h4.5M501.7,134.4h-4.5M55.5,149.4h4.5M501.7,149.4h-4.5M55.5,164.4h4.5M501.7,164.4h-4.5M127.2,164.4v-4.5M127.2,104.4v4.5M206.9,164.4v-4.5M206.9,104.4v4.5M286.6,164.4v-4.5M286.6,104.4v4.5M366.4,164.4v-4.5M366.4,104.4v4.5M446.1,164.4v-4.5M446.1,104.4v4.5" stroke="#a6a6a6" stroke-width="1" fill="none"/>
<text x="51.3" y="109.4" font-size="13.4" text-anchor="end">0.5</text>
<text x="51.3" y="124.4" font-size="13.4" text-anchor="end">0.25</text>
<text x="51.3" y="139.4" font-size="13.4" text-anchor="end">0</text>
<text x="51.3" y="154.4" font-size="13.4" text-anchor="end">-0.25</text>
<text x="51.3" y="169.4" font-size="13.4" text-anchor="end">-0.5</text>
<rect x="55.5" y="183.5" width="446.2" height="59.0" fill="none" stroke="#a6a6a6" stroke-width="1"/>
<path d="M55.5,183.5h4.5M501.7,183.5h-4.5M55.5,198.25h4.5M501.7,198.25h-4.5M55.5,213.0h4.5M501.7,213.0h-4.5M55.5,227.75h4.5M501.7,227.75h-4.5M55.5,242.5h4.5M501.7,242.5h-4.5M127.2,242.5v-4.5M127.2,183.5v4.5M206.9,242.5v-4.5M206.9,183.5v4.5M286.6,242.5v-4.5M286.6,183.5v4.5M366.4,242.5v-4.5M366.4,183.5v4.5M446.1,242.5v-4.5M446.1,183.5v4.5" stroke="#a6a6a6" stroke-width="1" fill="none"/>
<text x="51.3" y="188.5" font-size="13.4" text-anchor="end">0.5</text>
<text x="51.3" y="203.2" font-size="13.4" text-anchor="end">0.25</text>
<text x="51.3" y="218.0" font-size="13.4" text-anchor="end">0</text>
<text x="51.3" y="232.8" font-size="13.4" text-anchor="end">-0.25</text>
<text x="51.3" y="247.5" font-size="13.4" text-anchor="end">-0.5</text>
<g fill="#EDB120"><circle cx="66.5" cy="75.4" r="1.9"/><circle cx="66.0" cy="83.4" r="1.9"/><circle cx="66.9" cy="105.7" r="1.9"/><circle cx="67.8" cy="157.2" r="1.9"/><circle cx="97.3" cy="140.5" r="1.9"/><circle cx="67.6" cy="194.2" r="1.9"/><circle cx="66.9" cy="213.0" r="1.9"/><circle cx="68.0" cy="222.5" r="1.9"/><circle cx="67.1" cy="238.0" r="1.9"/></g>
<g fill="#77AC30"><circle cx="67.8" cy="76.7" r="2.05"/><circle cx="67.6" cy="82.5" r="2.05"/><circle cx="68.0" cy="126.4" r="2.05"/><circle cx="68.0" cy="187.4" r="2.05"/><circle cx="68.0" cy="200.3" r="2.05"/><circle cx="68.0" cy="218.6" r="2.05"/></g>
<text x="127.2" y="260.6" font-size="13.4" text-anchor="middle">125,500</text>
<text x="206.9" y="260.6" font-size="13.4" text-anchor="middle">126,000</text>
<text x="286.6" y="260.6" font-size="13.4" text-anchor="middle">126,500</text>
<text x="366.4" y="260.6" font-size="13.4" text-anchor="middle">127,000</text>
<text x="446.1" y="260.6" font-size="13.4" text-anchor="middle">127,500</text>
<text x="277.5" y="275" font-size="14.75" text-anchor="middle">Time of week GPS (s)</text>
<text transform="translate(15.6,53.5) rotate(-90)" font-size="13.4" text-anchor="middle">East err. (m)</text>
<text transform="translate(15.6,134.2) rotate(-90)" font-size="13.4" text-anchor="middle">North err. (m)</text>
<text transform="translate(15.6,213) rotate(-90)" font-size="13.4" text-anchor="middle">Up err. (m)</text>
<text class="t" x="63.8" y="16.0" font-size="13.6">Fixed sol.</text><text transform="translate(126.0,16.0) scale(1.38,1)" font-size="11.2" font-style="italic" class="t" style="font-family:&quot;Liberation Serif&quot;,serif;stroke-width:0">μ</text><text x="134.3" y="22.9" font-size="10.7" class="t" style="stroke-width:0.1px">err.</text><text class="t" x="153.75" y="16.0" font-size="13.6">= 0.042 m;</text><text transform="translate(229.8,16.0) scale(1.38,1)" font-size="11.2" font-style="italic" class="t" style="font-family:&quot;Liberation Serif&quot;,serif;stroke-width:0">σ</text><text x="238.0" y="22.9" font-size="10.7" class="t" style="stroke-width:0.1px">err.</text><text class="t" x="257.9" y="16.0" font-size="13.6">= 0.031 m</text>
<text class="t" x="65.1" y="96.8" font-size="13.6">Fixed sol.</text><text transform="translate(126.5,96.8) scale(1.38,1)" font-size="11.2" font-style="italic" class="t" style="font-family:&quot;Liberation Serif&quot;,serif;stroke-width:0">μ</text><text x="135.6" y="103.7" font-size="10.7" class="t" style="stroke-width:0.1px">err.</text><text class="t" x="156.45" y="96.8" font-size="13.6">= 0.028 m;</text><text transform="translate(223.6,96.8) scale(1.38,1)" font-size="11.2" font-style="italic" class="t" style="font-family:&quot;Liberation Serif&quot;,serif;stroke-width:0">σ</text><text x="231.9" y="103.7" font-size="10.7" class="t" style="stroke-width:0.1px">err.</text><text class="t" x="251.95" y="96.8" font-size="13.6">= 0.041 m</text>
<text class="t" x="67.3" y="175.6" font-size="13.6">Fixed sol.</text><text transform="translate(129.4,175.6) scale(1.38,1)" font-size="11.2" font-style="italic" class="t" style="font-family:&quot;Liberation Serif&quot;,serif;stroke-width:0">μ</text><text x="138.0" y="182.5" font-size="10.7" class="t" style="stroke-width:0.1px">err.</text><text class="t" x="158.65" y="175.6" font-size="13.6">= 0.184 m;</text><text transform="translate(229.1,175.6) scale(1.38,1)" font-size="11.2" font-style="italic" class="t" style="font-family:&quot;Liberation Serif&quot;,serif;stroke-width:0">σ</text><text x="236.9" y="182.5" font-size="10.7" class="t" style="stroke-width:0.1px">err.</text><text class="t" x="258.05" y="175.6" font-size="13.6">= 0.088 m</text>
<rect x="483.6" y="58.4" width="61.4" height="43.7" fill="#fff" stroke="#c0c0c0" stroke-width="1"/>
<circle cx="493.6" cy="65.8" r="2.0" fill="#EDB120"/>
<text x="503" y="69.9" font-size="11.4" style="fill:#222;stroke:#222;stroke-width:0.2px">DGNSS</text>
<circle cx="493.6" cy="80.2" r="2.0" fill="#77AC30"/>
<text x="503" y="84.3" font-size="11.4" style="fill:#222;stroke:#222;stroke-width:0.2px">Float</text>
<circle cx="493.6" cy="94.3" r="2.0" fill="#80279A"/>
<text x="503" y="98.4" font-size="11.4" style="fill:#222;stroke:#222;stroke-width:0.2px">Fixed</text>
</svg></body></html>
